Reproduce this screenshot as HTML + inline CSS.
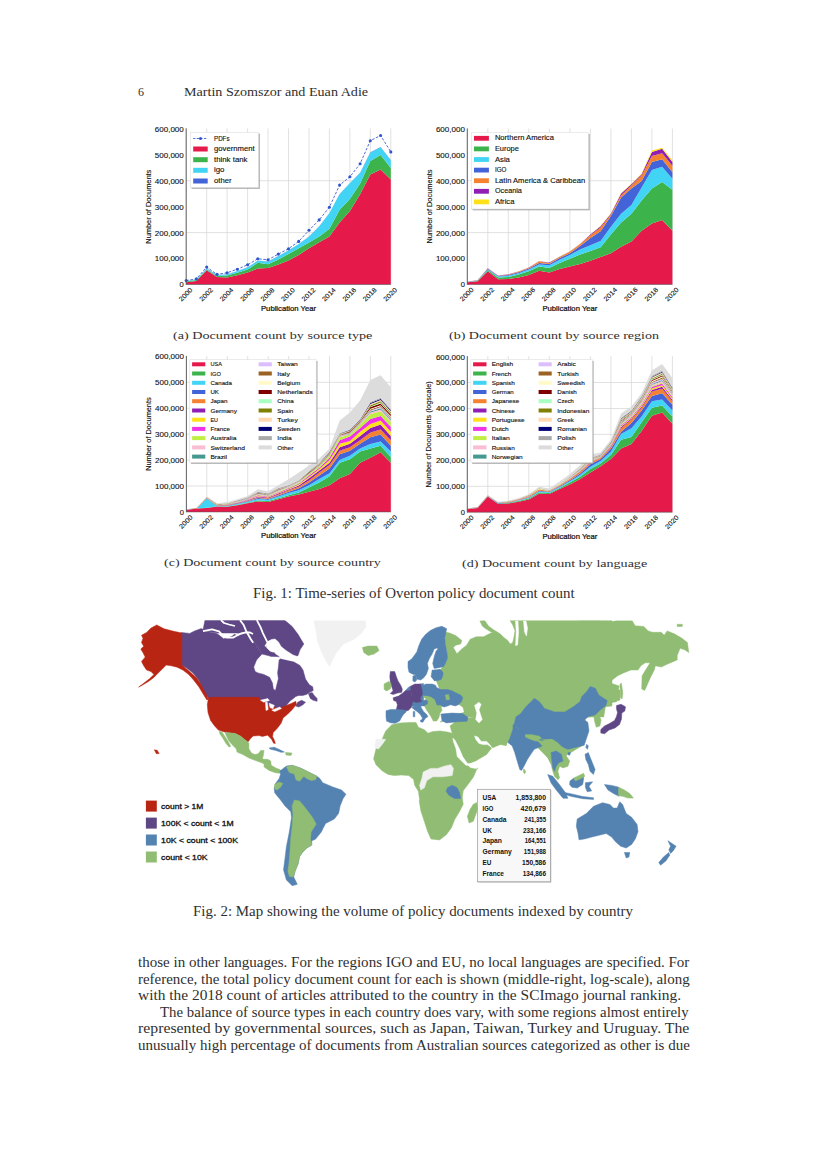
<!DOCTYPE html>
<html><head><meta charset="utf-8"><style>
html,body{margin:0;padding:0;background:#fff;}
body{width:827px;height:1169px;position:relative;overflow:hidden;}
.t{position:absolute;transform-origin:0 0;font-family:"Liberation Serif",serif;color:#303030;white-space:nowrap;line-height:1;}
.j{text-align:justify;text-align-last:justify;white-space:normal;}
svg{position:absolute;left:0;top:0;}
.tk{font-family:"Liberation Sans",sans-serif;font-size:6.6px;fill:#111;stroke:#111;stroke-width:0.1px;}
.at{font-family:"Liberation Sans",sans-serif;font-size:6.6px;fill:#111;stroke:#111;stroke-width:0.12px;}
.at2{font-family:"Liberation Sans",sans-serif;font-size:6.8px;fill:#111;stroke:#111;stroke-width:0.22px;}
.lg{font-family:"Liberation Sans",sans-serif;font-size:6.3px;fill:#111;stroke:#111;stroke-width:0.12px;}
.lg2{font-family:"Liberation Sans",sans-serif;font-size:5.6px;fill:#111;stroke:#111;stroke-width:0.12px;}
.ml{font-family:"Liberation Sans",sans-serif;font-size:7.6px;fill:#111;stroke:#111;stroke-width:0.3px;}
.tb{font-family:"Liberation Sans",sans-serif;font-size:6.4px;fill:#111;font-weight:bold;}
</style></head><body>

<svg width="827" height="1169" viewBox="0 0 827 1169">
<line x1="186.2" y1="128.4" x2="186.2" y2="284.5" stroke="#d4d4d4" stroke-width="0.7"/>
<line x1="206.7" y1="128.4" x2="206.7" y2="284.5" stroke="#d4d4d4" stroke-width="0.7"/>
<line x1="227.1" y1="128.4" x2="227.1" y2="284.5" stroke="#d4d4d4" stroke-width="0.7"/>
<line x1="247.6" y1="128.4" x2="247.6" y2="284.5" stroke="#d4d4d4" stroke-width="0.7"/>
<line x1="268" y1="128.4" x2="268" y2="284.5" stroke="#d4d4d4" stroke-width="0.7"/>
<line x1="288.5" y1="128.4" x2="288.5" y2="284.5" stroke="#d4d4d4" stroke-width="0.7"/>
<line x1="309" y1="128.4" x2="309" y2="284.5" stroke="#d4d4d4" stroke-width="0.7"/>
<line x1="329.4" y1="128.4" x2="329.4" y2="284.5" stroke="#d4d4d4" stroke-width="0.7"/>
<line x1="349.9" y1="128.4" x2="349.9" y2="284.5" stroke="#d4d4d4" stroke-width="0.7"/>
<line x1="370.3" y1="128.4" x2="370.3" y2="284.5" stroke="#d4d4d4" stroke-width="0.7"/>
<line x1="390.8" y1="128.4" x2="390.8" y2="284.5" stroke="#d4d4d4" stroke-width="0.7"/>
<line x1="186.2" y1="232.6" x2="390.8" y2="232.6" stroke="#d4d4d4" stroke-width="0.7"/>
<line x1="186.2" y1="180.7" x2="390.8" y2="180.7" stroke="#d4d4d4" stroke-width="0.7"/>
<path d="M186.2,282.2 L196.4,280.9 L206.7,270.2 L216.9,277 L227.1,277.5 L237.3,275.2 L247.6,272.6 L257.8,268.4 L268,267.9 L278.3,264.5 L288.5,260.6 L298.7,254.9 L309,248.2 L319.2,242.2 L329.4,236.5 L339.6,222.5 L349.9,211.1 L360.1,194.2 L370.3,174.5 L380.6,169.5 L390.8,179.4 L390.8,284.5 L380.6,284.5 L370.3,284.5 L360.1,284.5 L349.9,284.5 L339.6,284.5 L329.4,284.5 L319.2,284.5 L309,284.5 L298.7,284.5 L288.5,284.5 L278.3,284.5 L268,284.5 L257.8,284.5 L247.6,284.5 L237.3,284.5 L227.1,284.5 L216.9,284.5 L206.7,284.5 L196.4,284.5 L186.2,284.5Z" fill="#e6194B"/>
<path d="M186.2,281.6 L196.4,280.1 L206.7,269.4 L216.9,275.9 L227.1,275.4 L237.3,272.8 L247.6,269.4 L257.8,262.7 L268,264.3 L278.3,259.6 L288.5,254.1 L298.7,248.2 L309,242.5 L319.2,236.5 L329.4,228.7 L339.6,209.8 L349.9,199.1 L360.1,183.6 L370.3,161 L380.6,155 L390.8,168 L390.8,179.4 L380.6,169.5 L370.3,174.5 L360.1,194.2 L349.9,211.1 L339.6,222.5 L329.4,236.5 L319.2,242.2 L309,248.2 L298.7,254.9 L288.5,260.6 L278.3,264.5 L268,267.9 L257.8,268.4 L247.6,272.6 L237.3,275.2 L227.1,277.5 L216.9,277 L206.7,270.2 L196.4,280.9 L186.2,282.2Z" fill="#3cb44b"/>
<path d="M186.2,281.1 L196.4,279.3 L206.7,268.4 L216.9,275.2 L227.1,274.4 L237.3,271 L247.6,267.4 L257.8,260.6 L268,261.7 L278.3,256.2 L288.5,250.5 L298.7,244 L309,236.8 L319.2,226.4 L329.4,213.1 L339.6,194.2 L349.9,183 L360.1,172.9 L370.3,152.4 L380.6,147.2 L390.8,160.2 L390.8,168 L380.6,155 L370.3,161 L360.1,183.6 L349.9,199.1 L339.6,209.8 L329.4,228.7 L319.2,236.5 L309,242.5 L298.7,248.2 L288.5,254.1 L278.3,259.6 L268,264.3 L257.8,262.7 L247.6,269.4 L237.3,272.8 L227.1,275.4 L216.9,275.9 L206.7,269.4 L196.4,280.1 L186.2,281.6Z" fill="#42d4f4"/>
<path d="M186.2,281 L196.4,279.2 L206.7,268.3 L216.9,275 L227.1,274.2 L237.3,270.9 L247.6,267.2 L257.8,260.5 L268,261.5 L278.3,256.1 L288.5,250.3 L298.7,243.9 L309,236.6 L319.2,226.2 L329.4,213 L339.6,194 L349.9,182.9 L360.1,172.8 L370.3,152.3 L380.6,147.1 L390.8,160 L390.8,160.2 L380.6,147.2 L370.3,152.4 L360.1,172.9 L349.9,183 L339.6,194.2 L329.4,213.1 L319.2,226.4 L309,236.8 L298.7,244 L288.5,250.5 L278.3,256.2 L268,261.7 L257.8,260.6 L247.6,267.4 L237.3,271 L227.1,274.4 L216.9,275.2 L206.7,268.4 L196.4,279.3 L186.2,281.1Z" fill="#4363d8"/>
<polyline points="186.2,280.6 196.4,278.8 206.7,267.1 216.9,274.4 227.1,272.8 237.3,269.2 247.6,264.8 257.8,258.8 268,259.8 278.3,254.1 288.5,248.7 298.7,241.4 309,230.3 319.2,219.9 329.4,207.2 339.6,185.1 349.9,176.8 360.1,163.8 370.3,140.7 380.6,135.5 390.8,151.9" fill="none" stroke="#3b5bd0" stroke-width="0.9" stroke-dasharray="2.6,1.6"/>
<circle cx="186.2" cy="280.6" r="1.55" fill="#2f55cc"/>
<circle cx="196.4" cy="278.8" r="1.55" fill="#2f55cc"/>
<circle cx="206.7" cy="267.1" r="1.55" fill="#2f55cc"/>
<circle cx="216.9" cy="274.4" r="1.55" fill="#2f55cc"/>
<circle cx="227.1" cy="272.8" r="1.55" fill="#2f55cc"/>
<circle cx="237.3" cy="269.2" r="1.55" fill="#2f55cc"/>
<circle cx="247.6" cy="264.8" r="1.55" fill="#2f55cc"/>
<circle cx="257.8" cy="258.8" r="1.55" fill="#2f55cc"/>
<circle cx="268" cy="259.8" r="1.55" fill="#2f55cc"/>
<circle cx="278.3" cy="254.1" r="1.55" fill="#2f55cc"/>
<circle cx="288.5" cy="248.7" r="1.55" fill="#2f55cc"/>
<circle cx="298.7" cy="241.4" r="1.55" fill="#2f55cc"/>
<circle cx="309" cy="230.3" r="1.55" fill="#2f55cc"/>
<circle cx="319.2" cy="219.9" r="1.55" fill="#2f55cc"/>
<circle cx="329.4" cy="207.2" r="1.55" fill="#2f55cc"/>
<circle cx="339.6" cy="185.1" r="1.55" fill="#2f55cc"/>
<circle cx="349.9" cy="176.8" r="1.55" fill="#2f55cc"/>
<circle cx="360.1" cy="163.8" r="1.55" fill="#2f55cc"/>
<circle cx="370.3" cy="140.7" r="1.55" fill="#2f55cc"/>
<circle cx="380.6" cy="135.5" r="1.55" fill="#2f55cc"/>
<circle cx="390.8" cy="151.9" r="1.55" fill="#2f55cc"/>
<line x1="186.2" y1="128.3" x2="186.2" y2="284.8" stroke="#555" stroke-width="0.9"/>
<line x1="186.2" y1="284.5" x2="390.8" y2="284.5" stroke="#555" stroke-width="0.6"/>
<text x="183.8" y="287.4" text-anchor="end" class="tk" textLength="4.2" lengthAdjust="spacingAndGlyphs">0</text>
<text x="183.8" y="261.4" text-anchor="end" class="tk" textLength="29" lengthAdjust="spacingAndGlyphs">100,000</text>
<text x="183.8" y="235.5" text-anchor="end" class="tk" textLength="29" lengthAdjust="spacingAndGlyphs">200,000</text>
<text x="183.8" y="209.6" text-anchor="end" class="tk" textLength="29" lengthAdjust="spacingAndGlyphs">300,000</text>
<text x="183.8" y="183.6" text-anchor="end" class="tk" textLength="29" lengthAdjust="spacingAndGlyphs">400,000</text>
<text x="183.8" y="157.7" text-anchor="end" class="tk" textLength="29" lengthAdjust="spacingAndGlyphs">500,000</text>
<text x="183.8" y="131.7" text-anchor="end" class="tk" textLength="29" lengthAdjust="spacingAndGlyphs">600,000</text>
<text transform="translate(185.6,294.4) rotate(-45)" x="0" y="2.3" text-anchor="middle" class="tk" textLength="16.2" lengthAdjust="spacingAndGlyphs">2000</text>
<text transform="translate(206.1,294.4) rotate(-45)" x="0" y="2.3" text-anchor="middle" class="tk" textLength="16.2" lengthAdjust="spacingAndGlyphs">2002</text>
<text transform="translate(226.5,294.4) rotate(-45)" x="0" y="2.3" text-anchor="middle" class="tk" textLength="16.2" lengthAdjust="spacingAndGlyphs">2004</text>
<text transform="translate(247,294.4) rotate(-45)" x="0" y="2.3" text-anchor="middle" class="tk" textLength="16.2" lengthAdjust="spacingAndGlyphs">2006</text>
<text transform="translate(267.4,294.4) rotate(-45)" x="0" y="2.3" text-anchor="middle" class="tk" textLength="16.2" lengthAdjust="spacingAndGlyphs">2008</text>
<text transform="translate(287.9,294.4) rotate(-45)" x="0" y="2.3" text-anchor="middle" class="tk" textLength="16.2" lengthAdjust="spacingAndGlyphs">2010</text>
<text transform="translate(308.4,294.4) rotate(-45)" x="0" y="2.3" text-anchor="middle" class="tk" textLength="16.2" lengthAdjust="spacingAndGlyphs">2012</text>
<text transform="translate(328.8,294.4) rotate(-45)" x="0" y="2.3" text-anchor="middle" class="tk" textLength="16.2" lengthAdjust="spacingAndGlyphs">2014</text>
<text transform="translate(349.3,294.4) rotate(-45)" x="0" y="2.3" text-anchor="middle" class="tk" textLength="16.2" lengthAdjust="spacingAndGlyphs">2016</text>
<text transform="translate(369.7,294.4) rotate(-45)" x="0" y="2.3" text-anchor="middle" class="tk" textLength="16.2" lengthAdjust="spacingAndGlyphs">2018</text>
<text transform="translate(390.2,294.4) rotate(-45)" x="0" y="2.3" text-anchor="middle" class="tk" textLength="16.2" lengthAdjust="spacingAndGlyphs">2020</text>
<text x="288.5" y="311" text-anchor="middle" class="at2" textLength="55" lengthAdjust="spacingAndGlyphs">Publication Year</text>
<text transform="translate(148.8,206.7) rotate(-90)" x="0" y="2.2" text-anchor="middle" class="at" textLength="74" lengthAdjust="spacingAndGlyphs">Number of Documents</text>
<rect x="191.6" y="133.7" width="68.2" height="55.1" fill="#9a9a9a" opacity="0.85"/>
<rect x="190.3" y="132.4" width="68.2" height="55.1" fill="#fff" stroke="#dedede" stroke-width="0.6"/>
<line x1="193.2" y1="138.5" x2="207.7" y2="138.5" stroke="#3b5bd0" stroke-width="0.9" stroke-dasharray="2.2,1.4"/>
<circle cx="200.5" cy="138.5" r="1.5" fill="#2f55cc"/>
<text x="214" y="140.6" class="lg" textLength="15.5" lengthAdjust="spacingAndGlyphs">PDFs</text>
<rect x="193.2" y="146.5" width="14.5" height="5" fill="#e6194B"/>
<text x="214" y="151.1" class="lg" textLength="40.6" lengthAdjust="spacingAndGlyphs">government</text>
<rect x="193.2" y="157.2" width="14.5" height="5" fill="#3cb44b"/>
<text x="214" y="161.8" class="lg" textLength="33.5" lengthAdjust="spacingAndGlyphs">think tank</text>
<rect x="193.2" y="167.8" width="14.5" height="5" fill="#42d4f4"/>
<text x="214" y="172.4" class="lg" textLength="10.5" lengthAdjust="spacingAndGlyphs">igo</text>
<rect x="193.2" y="178.5" width="14.5" height="5" fill="#4363d8"/>
<text x="214" y="183.1" class="lg" textLength="17.5" lengthAdjust="spacingAndGlyphs">other</text>
<line x1="467.3" y1="128.5" x2="467.3" y2="284.4" stroke="#d4d4d4" stroke-width="0.7"/>
<line x1="487.8" y1="128.5" x2="487.8" y2="284.4" stroke="#d4d4d4" stroke-width="0.7"/>
<line x1="508.3" y1="128.5" x2="508.3" y2="284.4" stroke="#d4d4d4" stroke-width="0.7"/>
<line x1="528.8" y1="128.5" x2="528.8" y2="284.4" stroke="#d4d4d4" stroke-width="0.7"/>
<line x1="549.3" y1="128.5" x2="549.3" y2="284.4" stroke="#d4d4d4" stroke-width="0.7"/>
<line x1="569.9" y1="128.5" x2="569.9" y2="284.4" stroke="#d4d4d4" stroke-width="0.7"/>
<line x1="590.4" y1="128.5" x2="590.4" y2="284.4" stroke="#d4d4d4" stroke-width="0.7"/>
<line x1="610.9" y1="128.5" x2="610.9" y2="284.4" stroke="#d4d4d4" stroke-width="0.7"/>
<line x1="631.4" y1="128.5" x2="631.4" y2="284.4" stroke="#d4d4d4" stroke-width="0.7"/>
<line x1="651.9" y1="128.5" x2="651.9" y2="284.4" stroke="#d4d4d4" stroke-width="0.7"/>
<line x1="672.4" y1="128.5" x2="672.4" y2="284.4" stroke="#d4d4d4" stroke-width="0.7"/>
<line x1="467.3" y1="232.6" x2="672.4" y2="232.6" stroke="#d4d4d4" stroke-width="0.7"/>
<line x1="467.3" y1="180.7" x2="672.4" y2="180.7" stroke="#d4d4d4" stroke-width="0.7"/>
<path d="M467.3,282.3 L477.6,281.3 L487.8,271.2 L498.1,279.2 L508.3,279 L518.6,277.4 L528.8,275.1 L539.1,270.7 L549.3,272.5 L559.6,269.1 L569.9,266.5 L580.1,263.9 L590.4,260.8 L600.6,256.9 L610.9,253.3 L621.1,246.8 L631.4,241.6 L641.6,230.8 L651.9,223.5 L662.1,219.9 L672.4,230.8 L672.4,284.4 L662.1,284.4 L651.9,284.4 L641.6,284.4 L631.4,284.4 L621.1,284.4 L610.9,284.4 L600.6,284.4 L590.4,284.4 L580.1,284.4 L569.9,284.4 L559.6,284.4 L549.3,284.4 L539.1,284.4 L528.8,284.4 L518.6,284.4 L508.3,284.4 L498.1,284.4 L487.8,284.4 L477.6,284.4 L467.3,284.4Z" fill="#e6194B"/>
<path d="M467.3,282.2 L477.6,280.8 L487.8,269.9 L498.1,277.4 L508.3,276.9 L518.6,274.6 L528.8,271.2 L539.1,266.5 L549.3,268.1 L559.6,263.1 L569.9,258.7 L580.1,254.6 L590.4,251 L600.6,247.3 L610.9,234.4 L621.1,222.4 L631.4,213.7 L641.6,200.6 L651.9,188.6 L662.1,182.1 L672.4,189.7 L672.4,230.8 L662.1,219.9 L651.9,223.5 L641.6,230.8 L631.4,241.6 L621.1,246.8 L610.9,253.3 L600.6,256.9 L590.4,260.8 L580.1,263.9 L569.9,266.5 L559.6,269.1 L549.3,272.5 L539.1,270.7 L528.8,275.1 L518.6,277.4 L508.3,279 L498.1,279.2 L487.8,271.2 L477.6,281.3 L467.3,282.3Z" fill="#3cb44b"/>
<path d="M467.3,282.1 L477.6,280.5 L487.8,269.4 L498.1,276.6 L508.3,275.8 L518.6,273.3 L528.8,269.4 L539.1,264.4 L549.3,265.2 L559.6,259.8 L569.9,255.1 L580.1,249.4 L590.4,245.3 L600.6,240.9 L610.9,226.8 L621.1,213.7 L631.4,205 L641.6,187.5 L651.9,170.1 L662.1,166.8 L672.4,178.8 L672.4,189.7 L662.1,182.1 L651.9,188.6 L641.6,200.6 L631.4,213.7 L621.1,222.4 L610.9,234.4 L600.6,247.3 L590.4,251 L580.1,254.6 L569.9,258.7 L559.6,263.1 L549.3,268.1 L539.1,266.5 L528.8,271.2 L518.6,274.6 L508.3,276.9 L498.1,277.4 L487.8,269.9 L477.6,280.8 L467.3,282.2Z" fill="#42d4f4"/>
<path d="M467.3,281.9 L477.6,280.3 L487.8,268.8 L498.1,276.1 L508.3,275.1 L518.6,272.2 L528.8,268.6 L539.1,262.9 L549.3,263.9 L559.6,258 L569.9,253.3 L580.1,246 L590.4,238 L600.6,231.3 L610.9,215.9 L621.1,197.4 L631.4,188.6 L641.6,181 L651.9,161.9 L662.1,159.2 L672.4,172.3 L672.4,178.8 L662.1,166.8 L651.9,170.1 L641.6,187.5 L631.4,205 L621.1,213.7 L610.9,226.8 L600.6,240.9 L590.4,245.3 L580.1,249.4 L569.9,255.1 L559.6,259.8 L549.3,265.2 L539.1,264.4 L528.8,269.4 L518.6,273.3 L508.3,275.8 L498.1,276.6 L487.8,269.4 L477.6,280.5 L467.3,282.1Z" fill="#4363d8"/>
<path d="M467.3,281.9 L477.6,280 L487.8,268.6 L498.1,275.8 L508.3,274.6 L518.6,271.7 L528.8,267.8 L539.1,261.6 L549.3,262.9 L559.6,256.9 L569.9,251.7 L580.1,244.2 L590.4,235.2 L600.6,227.4 L610.9,214.8 L621.1,195.2 L631.4,185.4 L641.6,175.5 L651.9,155.9 L662.1,153.2 L672.4,165.7 L672.4,172.3 L662.1,159.2 L651.9,161.9 L641.6,181 L631.4,188.6 L621.1,197.4 L610.9,215.9 L600.6,231.3 L590.4,238 L580.1,246 L569.9,253.3 L559.6,258 L549.3,263.9 L539.1,262.9 L528.8,268.6 L518.6,272.2 L508.3,275.1 L498.1,276.1 L487.8,268.8 L477.6,280.3 L467.3,281.9Z" fill="#f58231"/>
<path d="M467.3,281.8 L477.6,280 L487.8,268.3 L498.1,275.6 L508.3,274.3 L518.6,271.4 L528.8,267.6 L539.1,261.3 L549.3,262.6 L559.6,256.7 L569.9,251.5 L580.1,244 L590.4,234.6 L600.6,226.3 L610.9,213.7 L621.1,193.5 L631.4,184.3 L641.6,174.2 L651.9,152.1 L662.1,148.8 L672.4,161.9 L672.4,165.7 L662.1,153.2 L651.9,155.9 L641.6,175.5 L631.4,185.4 L621.1,195.2 L610.9,214.8 L600.6,227.4 L590.4,235.2 L580.1,244.2 L569.9,251.7 L559.6,256.9 L549.3,262.9 L539.1,261.6 L528.8,267.8 L518.6,271.7 L508.3,274.6 L498.1,275.8 L487.8,268.6 L477.6,280 L467.3,281.9Z" fill="#911eb4"/>
<path d="M467.3,281.8 L477.6,280 L487.8,268.3 L498.1,275.6 L508.3,274.3 L518.6,271.2 L528.8,267.6 L539.1,261.1 L549.3,262.6 L559.6,256.4 L569.9,251.2 L580.1,243.7 L590.4,234.4 L600.6,225.8 L610.9,213.2 L621.1,193 L631.4,183.7 L641.6,173.4 L651.9,150.4 L662.1,147.7 L672.4,160.3 L672.4,161.9 L662.1,148.8 L651.9,152.1 L641.6,174.2 L631.4,184.3 L621.1,193.5 L610.9,213.7 L600.6,226.3 L590.4,234.6 L580.1,244 L569.9,251.5 L559.6,256.7 L549.3,262.6 L539.1,261.3 L528.8,267.6 L518.6,271.4 L508.3,274.3 L498.1,275.6 L487.8,268.3 L477.6,280 L467.3,281.8Z" fill="#ffe119"/>
<line x1="467.3" y1="128.4" x2="467.3" y2="284.7" stroke="#555" stroke-width="0.9"/>
<line x1="467.3" y1="284.4" x2="672.4" y2="284.4" stroke="#555" stroke-width="0.6"/>
<text x="464.9" y="287.3" text-anchor="end" class="tk" textLength="4.2" lengthAdjust="spacingAndGlyphs">0</text>
<text x="464.9" y="261.4" text-anchor="end" class="tk" textLength="29" lengthAdjust="spacingAndGlyphs">100,000</text>
<text x="464.9" y="235.5" text-anchor="end" class="tk" textLength="29" lengthAdjust="spacingAndGlyphs">200,000</text>
<text x="464.9" y="209.5" text-anchor="end" class="tk" textLength="29" lengthAdjust="spacingAndGlyphs">300,000</text>
<text x="464.9" y="183.6" text-anchor="end" class="tk" textLength="29" lengthAdjust="spacingAndGlyphs">400,000</text>
<text x="464.9" y="157.7" text-anchor="end" class="tk" textLength="29" lengthAdjust="spacingAndGlyphs">500,000</text>
<text x="464.9" y="131.8" text-anchor="end" class="tk" textLength="29" lengthAdjust="spacingAndGlyphs">600,000</text>
<text transform="translate(466.7,294.3) rotate(-45)" x="0" y="2.3" text-anchor="middle" class="tk" textLength="16.2" lengthAdjust="spacingAndGlyphs">2000</text>
<text transform="translate(487.2,294.3) rotate(-45)" x="0" y="2.3" text-anchor="middle" class="tk" textLength="16.2" lengthAdjust="spacingAndGlyphs">2002</text>
<text transform="translate(507.7,294.3) rotate(-45)" x="0" y="2.3" text-anchor="middle" class="tk" textLength="16.2" lengthAdjust="spacingAndGlyphs">2004</text>
<text transform="translate(528.2,294.3) rotate(-45)" x="0" y="2.3" text-anchor="middle" class="tk" textLength="16.2" lengthAdjust="spacingAndGlyphs">2006</text>
<text transform="translate(548.7,294.3) rotate(-45)" x="0" y="2.3" text-anchor="middle" class="tk" textLength="16.2" lengthAdjust="spacingAndGlyphs">2008</text>
<text transform="translate(569.2,294.3) rotate(-45)" x="0" y="2.3" text-anchor="middle" class="tk" textLength="16.2" lengthAdjust="spacingAndGlyphs">2010</text>
<text transform="translate(589.8,294.3) rotate(-45)" x="0" y="2.3" text-anchor="middle" class="tk" textLength="16.2" lengthAdjust="spacingAndGlyphs">2012</text>
<text transform="translate(610.3,294.3) rotate(-45)" x="0" y="2.3" text-anchor="middle" class="tk" textLength="16.2" lengthAdjust="spacingAndGlyphs">2014</text>
<text transform="translate(630.8,294.3) rotate(-45)" x="0" y="2.3" text-anchor="middle" class="tk" textLength="16.2" lengthAdjust="spacingAndGlyphs">2016</text>
<text transform="translate(651.3,294.3) rotate(-45)" x="0" y="2.3" text-anchor="middle" class="tk" textLength="16.2" lengthAdjust="spacingAndGlyphs">2018</text>
<text transform="translate(671.8,294.3) rotate(-45)" x="0" y="2.3" text-anchor="middle" class="tk" textLength="16.2" lengthAdjust="spacingAndGlyphs">2020</text>
<text x="569.9" y="310.9" text-anchor="middle" class="at2" textLength="55" lengthAdjust="spacingAndGlyphs">Publication Year</text>
<text transform="translate(429.8,206.6) rotate(-90)" x="0" y="2.2" text-anchor="middle" class="at" textLength="74" lengthAdjust="spacingAndGlyphs">Number of Documents</text>
<rect x="472.6" y="134" width="117.1" height="76.3" fill="#9a9a9a" opacity="0.85"/>
<rect x="471.3" y="132.7" width="117.1" height="76.3" fill="#fff" stroke="#dedede" stroke-width="0.6"/>
<rect x="474" y="135.9" width="14.9" height="4.8" fill="#e6194B"/>
<text x="494.9" y="140.4" class="lg" textLength="59" lengthAdjust="spacingAndGlyphs">Northern America</text>
<rect x="474" y="146.5" width="14.9" height="4.8" fill="#3cb44b"/>
<text x="494.9" y="151" class="lg" textLength="24" lengthAdjust="spacingAndGlyphs">Europe</text>
<rect x="474" y="157.1" width="14.9" height="4.8" fill="#42d4f4"/>
<text x="494.9" y="161.6" class="lg" textLength="15" lengthAdjust="spacingAndGlyphs">Asia</text>
<rect x="474" y="167.7" width="14.9" height="4.8" fill="#4363d8"/>
<text x="494.9" y="172.2" class="lg" textLength="11.5" lengthAdjust="spacingAndGlyphs">IGO</text>
<rect x="474" y="178.3" width="14.9" height="4.8" fill="#f58231"/>
<text x="494.9" y="182.8" class="lg" textLength="90.3" lengthAdjust="spacingAndGlyphs">Latin America &amp; Caribbean</text>
<rect x="474" y="188.9" width="14.9" height="4.8" fill="#911eb4"/>
<text x="494.9" y="193.4" class="lg" textLength="27" lengthAdjust="spacingAndGlyphs">Oceania</text>
<rect x="474" y="199.5" width="14.9" height="4.8" fill="#ffe119"/>
<text x="494.9" y="204" class="lg" textLength="19.5" lengthAdjust="spacingAndGlyphs">Africa</text>
<line x1="186.4" y1="356" x2="186.4" y2="511.9" stroke="#d4d4d4" stroke-width="0.7"/>
<line x1="206.8" y1="356" x2="206.8" y2="511.9" stroke="#d4d4d4" stroke-width="0.7"/>
<line x1="227.3" y1="356" x2="227.3" y2="511.9" stroke="#d4d4d4" stroke-width="0.7"/>
<line x1="247.7" y1="356" x2="247.7" y2="511.9" stroke="#d4d4d4" stroke-width="0.7"/>
<line x1="268.2" y1="356" x2="268.2" y2="511.9" stroke="#d4d4d4" stroke-width="0.7"/>
<line x1="288.6" y1="356" x2="288.6" y2="511.9" stroke="#d4d4d4" stroke-width="0.7"/>
<line x1="309" y1="356" x2="309" y2="511.9" stroke="#d4d4d4" stroke-width="0.7"/>
<line x1="329.5" y1="356" x2="329.5" y2="511.9" stroke="#d4d4d4" stroke-width="0.7"/>
<line x1="349.9" y1="356" x2="349.9" y2="511.9" stroke="#d4d4d4" stroke-width="0.7"/>
<line x1="370.4" y1="356" x2="370.4" y2="511.9" stroke="#d4d4d4" stroke-width="0.7"/>
<line x1="390.8" y1="356" x2="390.8" y2="511.9" stroke="#d4d4d4" stroke-width="0.7"/>
<line x1="186.4" y1="486" x2="390.8" y2="486" stroke="#d4d4d4" stroke-width="0.7"/>
<line x1="186.4" y1="460.1" x2="390.8" y2="460.1" stroke="#d4d4d4" stroke-width="0.7"/>
<line x1="186.4" y1="434.1" x2="390.8" y2="434.1" stroke="#d4d4d4" stroke-width="0.7"/>
<line x1="186.4" y1="408.2" x2="390.8" y2="408.2" stroke="#d4d4d4" stroke-width="0.7"/>
<line x1="186.4" y1="382.3" x2="390.8" y2="382.3" stroke="#d4d4d4" stroke-width="0.7"/>
<path d="M186.4,509.9 L196.6,508.6 L206.8,507.9 L217.1,506.6 L227.3,506.8 L237.5,505.3 L247.7,503.3 L257.9,501.5 L268.2,501.9 L278.4,499.3 L288.6,496.6 L298.8,494.5 L309,491.7 L319.3,488.9 L329.5,485.3 L339.7,478.3 L349.9,474 L360.1,462.8 L370.4,457.8 L380.6,452.2 L390.8,462.8 L390.8,511.9 L380.6,511.9 L370.4,511.9 L360.1,511.9 L349.9,511.9 L339.7,511.9 L329.5,511.9 L319.3,511.9 L309,511.9 L298.8,511.9 L288.6,511.9 L278.4,511.9 L268.2,511.9 L257.9,511.9 L247.7,511.9 L237.5,511.9 L227.3,511.9 L217.1,511.9 L206.8,511.9 L196.6,511.9 L186.4,511.9Z" fill="#e6194B"/>
<path d="M186.4,509.9 L196.6,508.5 L206.8,507.7 L217.1,506.3 L227.3,506.5 L237.5,504.8 L247.7,502.7 L257.9,500.6 L268.2,501.1 L278.4,498.2 L288.6,495.2 L298.8,492.4 L309,487.5 L319.3,482.5 L329.5,476.2 L339.7,462.8 L349.9,459.2 L360.1,451.5 L370.4,448.6 L380.6,445.8 L390.8,457.1 L390.8,462.8 L380.6,452.2 L370.4,457.8 L360.1,462.8 L349.9,474 L339.7,478.3 L329.5,485.3 L319.3,488.9 L309,491.7 L298.8,494.5 L288.6,496.6 L278.4,499.3 L268.2,501.9 L257.9,501.5 L247.7,503.3 L237.5,505.3 L227.3,506.8 L217.1,506.6 L206.8,507.9 L196.6,508.6 L186.4,509.9Z" fill="#3cb44b"/>
<path d="M186.4,509.8 L196.6,508.4 L206.8,498.6 L217.1,505.9 L227.3,505.9 L237.5,504.1 L247.7,501.8 L257.9,499.1 L268.2,499.8 L278.4,496.5 L288.6,493.1 L298.8,490.3 L309,485.3 L319.3,479 L329.5,473.3 L339.7,459.9 L349.9,455.7 L360.1,448.6 L370.4,444.1 L380.6,441.6 L390.8,451.5 L390.8,457.1 L380.6,445.8 L370.4,448.6 L360.1,451.5 L349.9,459.2 L339.7,462.8 L329.5,476.2 L319.3,482.5 L309,487.5 L298.8,492.4 L288.6,495.2 L278.4,498.2 L268.2,501.1 L257.9,500.6 L247.7,502.7 L237.5,504.8 L227.3,506.5 L217.1,506.3 L206.8,507.7 L196.6,508.5 L186.4,509.9Z" fill="#42d4f4"/>
<path d="M186.4,509.7 L196.6,508.4 L206.8,498.3 L217.1,505.7 L227.3,505.5 L237.5,503.6 L247.7,501.2 L257.9,498.1 L268.2,498.9 L278.4,495.4 L288.6,491.7 L298.8,488.2 L309,482.5 L319.3,475.5 L329.5,468.4 L339.7,454.3 L349.9,450.7 L360.1,443.7 L370.4,437.3 L380.6,434.5 L390.8,445.8 L390.8,451.5 L380.6,441.6 L370.4,444.1 L360.1,448.6 L349.9,455.7 L339.7,459.9 L329.5,473.3 L319.3,479 L309,485.3 L298.8,490.3 L288.6,493.1 L278.4,496.5 L268.2,499.8 L257.9,499.1 L247.7,501.8 L237.5,504.1 L227.3,505.9 L217.1,505.9 L206.8,498.6 L196.6,508.4 L186.4,509.8Z" fill="#4363d8"/>
<path d="M186.4,509.7 L196.6,508.3 L206.8,498.1 L217.1,505.4 L227.3,505.1 L237.5,503.2 L247.7,500.7 L257.9,497.3 L268.2,498.2 L278.4,494.4 L288.6,490.3 L298.8,486.8 L309,480.4 L319.3,472.6 L329.5,464.9 L339.7,450.7 L349.9,447.2 L360.1,440.2 L370.4,432.4 L380.6,429.6 L390.8,440.2 L390.8,445.8 L380.6,434.5 L370.4,437.3 L360.1,443.7 L349.9,450.7 L339.7,454.3 L329.5,468.4 L319.3,475.5 L309,482.5 L298.8,488.2 L288.6,491.7 L278.4,495.4 L268.2,498.9 L257.9,498.1 L247.7,501.2 L237.5,503.6 L227.3,505.5 L217.1,505.7 L206.8,498.3 L196.6,508.4 L186.4,509.7Z" fill="#f58231"/>
<path d="M186.4,509.6 L196.6,508.3 L206.8,497.9 L217.1,505.2 L227.3,504.8 L237.5,502.8 L247.7,500.3 L257.9,496.5 L268.2,497.6 L278.4,493.6 L288.6,489.6 L298.8,485.6 L309,478.3 L319.3,470.5 L329.5,462.8 L339.7,447.2 L349.9,443.7 L360.1,435.9 L370.4,428.1 L380.6,424.6 L390.8,435.9 L390.8,440.2 L380.6,429.6 L370.4,432.4 L360.1,440.2 L349.9,447.2 L339.7,450.7 L329.5,464.9 L319.3,472.6 L309,480.4 L298.8,486.8 L288.6,490.3 L278.4,494.4 L268.2,498.2 L257.9,497.3 L247.7,500.7 L237.5,503.2 L227.3,505.1 L217.1,505.4 L206.8,498.1 L196.6,508.3 L186.4,509.7Z" fill="#911eb4"/>
<path d="M186.4,509.6 L196.6,508.3 L206.8,497.7 L217.1,505.1 L227.3,504.6 L237.5,502.5 L247.7,499.9 L257.9,495.9 L268.2,497 L278.4,492.9 L288.6,488.9 L298.8,484.6 L309,476.9 L319.3,469.1 L329.5,459.9 L339.7,443.7 L349.9,440.9 L360.1,431.7 L370.4,423.9 L380.6,420.4 L390.8,431.7 L390.8,435.9 L380.6,424.6 L370.4,428.1 L360.1,435.9 L349.9,443.7 L339.7,447.2 L329.5,462.8 L319.3,470.5 L309,478.3 L298.8,485.6 L288.6,489.6 L278.4,493.6 L268.2,497.6 L257.9,496.5 L247.7,500.3 L237.5,502.8 L227.3,504.8 L217.1,505.2 L206.8,497.9 L196.6,508.3 L186.4,509.6Z" fill="#ffe119"/>
<path d="M186.4,509.6 L196.6,508.2 L206.8,497.6 L217.1,504.9 L227.3,504.3 L237.5,502.2 L247.7,499.5 L257.9,495.3 L268.2,496.5 L278.4,492.2 L288.6,488.2 L298.8,483.7 L309,475.5 L319.3,467.7 L329.5,457.8 L339.7,440.2 L349.9,436.6 L360.1,428.1 L370.4,419 L380.6,416.1 L390.8,426.7 L390.8,431.7 L380.6,420.4 L370.4,423.9 L360.1,431.7 L349.9,440.9 L339.7,443.7 L329.5,459.9 L319.3,469.1 L309,476.9 L298.8,484.6 L288.6,488.9 L278.4,492.9 L268.2,497 L257.9,495.9 L247.7,499.9 L237.5,502.5 L227.3,504.6 L217.1,505.1 L206.8,497.7 L196.6,508.3 L186.4,509.6Z" fill="#f032e6"/>
<path d="M186.4,509.5 L196.6,508.2 L206.8,497.5 L217.1,504.7 L227.3,504.1 L237.5,501.9 L247.7,499.2 L257.9,494.7 L268.2,496 L278.4,491.5 L288.6,487.5 L298.8,482.8 L309,474.3 L319.3,466.3 L329.5,455.7 L339.7,437.3 L349.9,434.5 L360.1,424.6 L370.4,414 L380.6,411.2 L390.8,421.8 L390.8,426.7 L380.6,416.1 L370.4,419 L360.1,428.1 L349.9,436.6 L339.7,440.2 L329.5,457.8 L319.3,467.7 L309,475.5 L298.8,483.7 L288.6,488.2 L278.4,492.2 L268.2,496.5 L257.9,495.3 L247.7,499.5 L237.5,502.2 L227.3,504.3 L217.1,504.9 L206.8,497.6 L196.6,508.2 L186.4,509.6Z" fill="#bfef45"/>
<path d="M186.4,509.5 L196.6,508.2 L206.8,497.5 L217.1,504.6 L227.3,503.9 L237.5,501.7 L247.7,499 L257.9,494.3 L268.2,495.7 L278.4,491.1 L288.6,487.2 L298.8,482.5 L309,474 L319.3,465.9 L329.5,455.2 L339.7,436.8 L349.9,433.9 L360.1,424 L370.4,412.6 L380.6,409.6 L390.8,420.3 L390.8,421.8 L380.6,411.2 L370.4,414 L360.1,424.6 L349.9,434.5 L339.7,437.3 L329.5,455.7 L319.3,466.3 L309,474.3 L298.8,482.8 L288.6,487.5 L278.4,491.5 L268.2,496 L257.9,494.7 L247.7,499.2 L237.5,501.9 L227.3,504.1 L217.1,504.7 L206.8,497.5 L196.6,508.2 L186.4,509.5Z" fill="#fabed4"/>
<path d="M186.4,509.5 L196.6,508.2 L206.8,497.4 L217.1,504.6 L227.3,503.8 L237.5,501.6 L247.7,498.8 L257.9,494 L268.2,495.4 L278.4,490.7 L288.6,487 L298.8,482.3 L309,473.7 L319.3,465.5 L329.5,454.8 L339.7,436.4 L349.9,433.4 L360.1,423.4 L370.4,411.4 L380.6,408.3 L390.8,419.1 L390.8,420.3 L380.6,409.6 L370.4,412.6 L360.1,424 L349.9,433.9 L339.7,436.8 L329.5,455.2 L319.3,465.9 L309,474 L298.8,482.5 L288.6,487.2 L278.4,491.1 L268.2,495.7 L257.9,494.3 L247.7,499 L237.5,501.7 L227.3,503.9 L217.1,504.6 L206.8,497.5 L196.6,508.2 L186.4,509.5Z" fill="#469990"/>
<path d="M186.4,509.5 L196.6,508.2 L206.8,497.4 L217.1,504.5 L227.3,503.7 L237.5,501.5 L247.7,498.6 L257.9,493.8 L268.2,495.2 L278.4,490.4 L288.6,486.8 L298.8,482.1 L309,473.4 L319.3,465.2 L329.5,454.4 L339.7,436 L349.9,433 L360.1,422.9 L370.4,410.4 L380.6,407.1 L390.8,417.9 L390.8,419.1 L380.6,408.3 L370.4,411.4 L360.1,423.4 L349.9,433.4 L339.7,436.4 L329.5,454.8 L319.3,465.5 L309,473.7 L298.8,482.3 L288.6,487 L278.4,490.7 L268.2,495.4 L257.9,494 L247.7,498.8 L237.5,501.6 L227.3,503.8 L217.1,504.6 L206.8,497.4 L196.6,508.2 L186.4,509.5Z" fill="#dcbeff"/>
<path d="M186.4,509.5 L196.6,508.1 L206.8,497.4 L217.1,504.4 L227.3,503.6 L237.5,501.4 L247.7,498.5 L257.9,493.6 L268.2,495 L278.4,490.2 L288.6,486.7 L298.8,481.9 L309,473.1 L319.3,464.9 L329.5,454.1 L339.7,435.7 L349.9,432.6 L360.1,422.5 L370.4,409.4 L380.6,406.1 L390.8,416.9 L390.8,417.9 L380.6,407.1 L370.4,410.4 L360.1,422.9 L349.9,433 L339.7,436 L329.5,454.4 L319.3,465.2 L309,473.4 L298.8,482.1 L288.6,486.8 L278.4,490.4 L268.2,495.2 L257.9,493.8 L247.7,498.6 L237.5,501.5 L227.3,503.7 L217.1,504.5 L206.8,497.4 L196.6,508.2 L186.4,509.5Z" fill="#9A6324"/>
<path d="M186.4,509.5 L196.6,508.1 L206.8,497.4 L217.1,504.4 L227.3,503.6 L237.5,501.3 L247.7,498.4 L257.9,493.4 L268.2,494.8 L278.4,490 L288.6,486.5 L298.8,481.7 L309,473 L319.3,464.7 L329.5,453.8 L339.7,435.5 L349.9,432.3 L360.1,422.1 L370.4,408.7 L380.6,405.3 L390.8,416.2 L390.8,416.9 L380.6,406.1 L370.4,409.4 L360.1,422.5 L349.9,432.6 L339.7,435.7 L329.5,454.1 L319.3,464.9 L309,473.1 L298.8,481.9 L288.6,486.7 L278.4,490.2 L268.2,495 L257.9,493.6 L247.7,498.5 L237.5,501.4 L227.3,503.6 L217.1,504.4 L206.8,497.4 L196.6,508.1 L186.4,509.5Z" fill="#fffac8"/>
<path d="M186.4,509.4 L196.6,508.1 L206.8,497.3 L217.1,504.3 L227.3,503.4 L237.5,501.1 L247.7,498.2 L257.9,493 L268.2,494.5 L278.4,489.5 L288.6,486.2 L298.8,481.4 L309,472.5 L319.3,464.2 L329.5,453.2 L339.7,434.9 L349.9,431.6 L360.1,421.3 L370.4,407.1 L380.6,403.4 L390.8,414.4 L390.8,416.2 L380.6,405.3 L370.4,408.7 L360.1,422.1 L349.9,432.3 L339.7,435.5 L329.5,453.8 L319.3,464.7 L309,473 L298.8,481.7 L288.6,486.5 L278.4,490 L268.2,494.8 L257.9,493.4 L247.7,498.4 L237.5,501.3 L227.3,503.6 L217.1,504.4 L206.8,497.4 L196.6,508.1 L186.4,509.5Z" fill="#800000"/>
<path d="M186.4,509.4 L196.6,508.1 L206.8,497.3 L217.1,504.2 L227.3,503.3 L237.5,501 L247.7,498.1 L257.9,492.8 L268.2,494.3 L278.4,489.3 L288.6,486.1 L298.8,481.3 L309,472.4 L319.3,464 L329.5,453 L339.7,434.6 L349.9,431.4 L360.1,421 L370.4,406.4 L380.6,402.6 L390.8,413.7 L390.8,414.4 L380.6,403.4 L370.4,407.1 L360.1,421.3 L349.9,431.6 L339.7,434.9 L329.5,453.2 L319.3,464.2 L309,472.5 L298.8,481.4 L288.6,486.2 L278.4,489.5 L268.2,494.5 L257.9,493 L247.7,498.2 L237.5,501.1 L227.3,503.4 L217.1,504.3 L206.8,497.3 L196.6,508.1 L186.4,509.4Z" fill="#aaffc3"/>
<path d="M186.4,509.4 L196.6,508.1 L206.8,497.3 L217.1,504.1 L227.3,503.2 L237.5,500.9 L247.7,497.9 L257.9,492.5 L268.2,494.1 L278.4,489 L288.6,485.9 L298.8,481 L309,472 L319.3,463.7 L329.5,452.6 L339.7,434.2 L349.9,430.9 L360.1,420.5 L370.4,405.2 L380.6,401.3 L390.8,412.4 L390.8,413.7 L380.6,402.6 L370.4,406.4 L360.1,421 L349.9,431.4 L339.7,434.6 L329.5,453 L319.3,464 L309,472.4 L298.8,481.3 L288.6,486.1 L278.4,489.3 L268.2,494.3 L257.9,492.8 L247.7,498.1 L237.5,501 L227.3,503.3 L217.1,504.2 L206.8,497.3 L196.6,508.1 L186.4,509.4Z" fill="#808000"/>
<path d="M186.4,509.4 L196.6,508.1 L206.8,497.2 L217.1,504.1 L227.3,503.1 L237.5,500.7 L247.7,497.7 L257.9,492.2 L268.2,493.8 L278.4,488.7 L288.6,485.7 L298.8,480.8 L309,471.7 L319.3,463.3 L329.5,452.2 L339.7,433.8 L349.9,430.4 L360.1,419.9 L370.4,404 L380.6,400 L390.8,411.2 L390.8,412.4 L380.6,401.3 L370.4,405.2 L360.1,420.5 L349.9,430.9 L339.7,434.2 L329.5,452.6 L319.3,463.7 L309,472 L298.8,481 L288.6,485.9 L278.4,489 L268.2,494.1 L257.9,492.5 L247.7,497.9 L237.5,500.9 L227.3,503.2 L217.1,504.1 L206.8,497.3 L196.6,508.1 L186.4,509.4Z" fill="#ffd8b1"/>
<path d="M186.4,509.4 L196.6,508.1 L206.8,497.2 L217.1,504 L227.3,503 L237.5,500.6 L247.7,497.6 L257.9,492 L268.2,493.6 L278.4,488.4 L288.6,485.5 L298.8,480.6 L309,471.5 L319.3,463.1 L329.5,451.8 L339.7,433.5 L349.9,430 L360.1,419.5 L370.4,403.1 L380.6,399 L390.8,410.2 L390.8,411.2 L380.6,400 L370.4,404 L360.1,419.9 L349.9,430.4 L339.7,433.8 L329.5,452.2 L319.3,463.3 L309,471.7 L298.8,480.8 L288.6,485.7 L278.4,488.7 L268.2,493.8 L257.9,492.2 L247.7,497.7 L237.5,500.7 L227.3,503.1 L217.1,504.1 L206.8,497.2 L196.6,508.1 L186.4,509.4Z" fill="#000075"/>
<path d="M186.4,509.4 L196.6,508 L206.8,497.2 L217.1,503.9 L227.3,502.9 L237.5,500.5 L247.7,497.4 L257.9,491.7 L268.2,493.4 L278.4,488.1 L288.6,485.3 L298.8,480.4 L309,471.2 L319.3,462.8 L329.5,451.5 L339.7,433.1 L349.9,429.6 L360.1,419 L370.4,402 L380.6,397.8 L390.8,409.1 L390.8,410.2 L380.6,399 L370.4,403.1 L360.1,419.5 L349.9,430 L339.7,433.5 L329.5,451.8 L319.3,463.1 L309,471.5 L298.8,480.6 L288.6,485.5 L278.4,488.4 L268.2,493.6 L257.9,492 L247.7,497.6 L237.5,500.6 L227.3,503 L217.1,504 L206.8,497.2 L196.6,508.1 L186.4,509.4Z" fill="#a9a9a9"/>
<path d="M186.4,509.2 L196.6,507.9 L206.8,496.6 L217.1,503.3 L227.3,501.9 L237.5,499.3 L247.7,496 L257.9,489.3 L268.2,491.3 L278.4,485.3 L288.6,479.3 L298.8,472.6 L309,465.6 L319.3,458.5 L329.5,448.6 L339.7,420.4 L349.9,412.6 L360.1,400.6 L370.4,380.1 L380.6,375.2 L390.8,387.2 L390.8,409.1 L380.6,397.8 L370.4,402 L360.1,419 L349.9,429.6 L339.7,433.1 L329.5,451.5 L319.3,462.8 L309,471.2 L298.8,480.4 L288.6,485.3 L278.4,488.1 L268.2,493.4 L257.9,491.7 L247.7,497.4 L237.5,500.5 L227.3,502.9 L217.1,503.9 L206.8,497.2 L196.6,508 L186.4,509.4Z" fill="#dcdcdc"/>
<line x1="186.4" y1="355.9" x2="186.4" y2="512.2" stroke="#555" stroke-width="0.9"/>
<line x1="186.4" y1="511.9" x2="390.8" y2="511.9" stroke="#555" stroke-width="0.6"/>
<text x="184" y="514.8" text-anchor="end" class="tk" textLength="4.2" lengthAdjust="spacingAndGlyphs">0</text>
<text x="184" y="488.9" text-anchor="end" class="tk" textLength="29" lengthAdjust="spacingAndGlyphs">100,000</text>
<text x="184" y="463" text-anchor="end" class="tk" textLength="29" lengthAdjust="spacingAndGlyphs">200,000</text>
<text x="184" y="437" text-anchor="end" class="tk" textLength="29" lengthAdjust="spacingAndGlyphs">300,000</text>
<text x="184" y="411.1" text-anchor="end" class="tk" textLength="29" lengthAdjust="spacingAndGlyphs">400,000</text>
<text x="184" y="385.2" text-anchor="end" class="tk" textLength="29" lengthAdjust="spacingAndGlyphs">500,000</text>
<text x="184" y="359.3" text-anchor="end" class="tk" textLength="29" lengthAdjust="spacingAndGlyphs">600,000</text>
<text transform="translate(185.8,521.8) rotate(-45)" x="0" y="2.3" text-anchor="middle" class="tk" textLength="16.2" lengthAdjust="spacingAndGlyphs">2000</text>
<text transform="translate(206.2,521.8) rotate(-45)" x="0" y="2.3" text-anchor="middle" class="tk" textLength="16.2" lengthAdjust="spacingAndGlyphs">2002</text>
<text transform="translate(226.7,521.8) rotate(-45)" x="0" y="2.3" text-anchor="middle" class="tk" textLength="16.2" lengthAdjust="spacingAndGlyphs">2004</text>
<text transform="translate(247.1,521.8) rotate(-45)" x="0" y="2.3" text-anchor="middle" class="tk" textLength="16.2" lengthAdjust="spacingAndGlyphs">2006</text>
<text transform="translate(267.6,521.8) rotate(-45)" x="0" y="2.3" text-anchor="middle" class="tk" textLength="16.2" lengthAdjust="spacingAndGlyphs">2008</text>
<text transform="translate(288,521.8) rotate(-45)" x="0" y="2.3" text-anchor="middle" class="tk" textLength="16.2" lengthAdjust="spacingAndGlyphs">2010</text>
<text transform="translate(308.4,521.8) rotate(-45)" x="0" y="2.3" text-anchor="middle" class="tk" textLength="16.2" lengthAdjust="spacingAndGlyphs">2012</text>
<text transform="translate(328.9,521.8) rotate(-45)" x="0" y="2.3" text-anchor="middle" class="tk" textLength="16.2" lengthAdjust="spacingAndGlyphs">2014</text>
<text transform="translate(349.3,521.8) rotate(-45)" x="0" y="2.3" text-anchor="middle" class="tk" textLength="16.2" lengthAdjust="spacingAndGlyphs">2016</text>
<text transform="translate(369.8,521.8) rotate(-45)" x="0" y="2.3" text-anchor="middle" class="tk" textLength="16.2" lengthAdjust="spacingAndGlyphs">2018</text>
<text transform="translate(390.2,521.8) rotate(-45)" x="0" y="2.3" text-anchor="middle" class="tk" textLength="16.2" lengthAdjust="spacingAndGlyphs">2020</text>
<text x="288.6" y="538.4" text-anchor="middle" class="at2" textLength="55" lengthAdjust="spacingAndGlyphs">Publication Year</text>
<text transform="translate(149.1,434.1) rotate(-90)" x="0" y="2.2" text-anchor="middle" class="at" textLength="73.5" lengthAdjust="spacingAndGlyphs">Number of Documents</text>
<rect x="191" y="361" width="126.5" height="102.8" fill="#9a9a9a" opacity="0.85"/>
<rect x="189.7" y="359.7" width="126.5" height="102.8" fill="#fff" stroke="#dedede" stroke-width="0.6"/>
<rect x="192.1" y="362.3" width="13.2" height="4" fill="#e6194B"/>
<text x="210.4" y="366.4" class="lg2" textLength="11.5" lengthAdjust="spacingAndGlyphs">USA</text>
<rect x="192.1" y="371.5" width="13.2" height="4" fill="#3cb44b"/>
<text x="210.4" y="375.6" class="lg2" textLength="10.5" lengthAdjust="spacingAndGlyphs">IGO</text>
<rect x="192.1" y="380.8" width="13.2" height="4" fill="#42d4f4"/>
<text x="210.4" y="384.9" class="lg2" textLength="21.5" lengthAdjust="spacingAndGlyphs">Canada</text>
<rect x="192.1" y="390" width="13.2" height="4" fill="#4363d8"/>
<text x="210.4" y="394.1" class="lg2" textLength="8.5" lengthAdjust="spacingAndGlyphs">UK</text>
<rect x="192.1" y="399.2" width="13.2" height="4" fill="#f58231"/>
<text x="210.4" y="403.3" class="lg2" textLength="17" lengthAdjust="spacingAndGlyphs">Japan</text>
<rect x="192.1" y="408.5" width="13.2" height="4" fill="#911eb4"/>
<text x="210.4" y="412.6" class="lg2" textLength="26.5" lengthAdjust="spacingAndGlyphs">Germany</text>
<rect x="192.1" y="417.7" width="13.2" height="4" fill="#ffe119"/>
<text x="210.4" y="421.8" class="lg2" textLength="7.5" lengthAdjust="spacingAndGlyphs">EU</text>
<rect x="192.1" y="426.9" width="13.2" height="4" fill="#f032e6"/>
<text x="210.4" y="431" class="lg2" textLength="19.5" lengthAdjust="spacingAndGlyphs">France</text>
<rect x="192.1" y="436.1" width="13.2" height="4" fill="#bfef45"/>
<text x="210.4" y="440.2" class="lg2" textLength="26" lengthAdjust="spacingAndGlyphs">Australia</text>
<rect x="192.1" y="445.4" width="13.2" height="4" fill="#fabed4"/>
<text x="210.4" y="449.5" class="lg2" textLength="34.5" lengthAdjust="spacingAndGlyphs">Switzerland</text>
<rect x="192.1" y="454.6" width="13.2" height="4" fill="#469990"/>
<text x="210.4" y="458.7" class="lg2" textLength="16.5" lengthAdjust="spacingAndGlyphs">Brazil</text>
<rect x="258.6" y="362.3" width="13.2" height="4" fill="#dcbeff"/>
<text x="277.3" y="366.4" class="lg2" textLength="20.5" lengthAdjust="spacingAndGlyphs">Taiwan</text>
<rect x="258.6" y="371.5" width="13.2" height="4" fill="#9A6324"/>
<text x="277.3" y="375.6" class="lg2" textLength="12.5" lengthAdjust="spacingAndGlyphs">Italy</text>
<rect x="258.6" y="380.8" width="13.2" height="4" fill="#fffac8"/>
<text x="277.3" y="384.9" class="lg2" textLength="23" lengthAdjust="spacingAndGlyphs">Belgium</text>
<rect x="258.6" y="390" width="13.2" height="4" fill="#800000"/>
<text x="277.3" y="394.1" class="lg2" textLength="35.5" lengthAdjust="spacingAndGlyphs">Netherlands</text>
<rect x="258.6" y="399.2" width="13.2" height="4" fill="#aaffc3"/>
<text x="277.3" y="403.3" class="lg2" textLength="16.5" lengthAdjust="spacingAndGlyphs">China</text>
<rect x="258.6" y="408.5" width="13.2" height="4" fill="#808000"/>
<text x="277.3" y="412.6" class="lg2" textLength="16" lengthAdjust="spacingAndGlyphs">Spain</text>
<rect x="258.6" y="417.7" width="13.2" height="4" fill="#ffd8b1"/>
<text x="277.3" y="421.8" class="lg2" textLength="20.5" lengthAdjust="spacingAndGlyphs">Turkey</text>
<rect x="258.6" y="426.9" width="13.2" height="4" fill="#000075"/>
<text x="277.3" y="431" class="lg2" textLength="23" lengthAdjust="spacingAndGlyphs">Sweden</text>
<rect x="258.6" y="436.1" width="13.2" height="4" fill="#a9a9a9"/>
<text x="277.3" y="440.2" class="lg2" textLength="14.5" lengthAdjust="spacingAndGlyphs">India</text>
<rect x="258.6" y="445.4" width="13.2" height="4" fill="#dcdcdc"/>
<text x="277.3" y="449.5" class="lg2" textLength="16" lengthAdjust="spacingAndGlyphs">Other</text>
<line x1="467.3" y1="356.2" x2="467.3" y2="512.2" stroke="#d4d4d4" stroke-width="0.7"/>
<line x1="487.8" y1="356.2" x2="487.8" y2="512.2" stroke="#d4d4d4" stroke-width="0.7"/>
<line x1="508.3" y1="356.2" x2="508.3" y2="512.2" stroke="#d4d4d4" stroke-width="0.7"/>
<line x1="528.8" y1="356.2" x2="528.8" y2="512.2" stroke="#d4d4d4" stroke-width="0.7"/>
<line x1="549.3" y1="356.2" x2="549.3" y2="512.2" stroke="#d4d4d4" stroke-width="0.7"/>
<line x1="569.9" y1="356.2" x2="569.9" y2="512.2" stroke="#d4d4d4" stroke-width="0.7"/>
<line x1="590.4" y1="356.2" x2="590.4" y2="512.2" stroke="#d4d4d4" stroke-width="0.7"/>
<line x1="610.9" y1="356.2" x2="610.9" y2="512.2" stroke="#d4d4d4" stroke-width="0.7"/>
<line x1="631.4" y1="356.2" x2="631.4" y2="512.2" stroke="#d4d4d4" stroke-width="0.7"/>
<line x1="651.9" y1="356.2" x2="651.9" y2="512.2" stroke="#d4d4d4" stroke-width="0.7"/>
<line x1="672.4" y1="356.2" x2="672.4" y2="512.2" stroke="#d4d4d4" stroke-width="0.7"/>
<line x1="467.3" y1="486.3" x2="672.4" y2="486.3" stroke="#d4d4d4" stroke-width="0.7"/>
<line x1="467.3" y1="460.3" x2="672.4" y2="460.3" stroke="#d4d4d4" stroke-width="0.7"/>
<line x1="467.3" y1="434.4" x2="672.4" y2="434.4" stroke="#d4d4d4" stroke-width="0.7"/>
<line x1="467.3" y1="408.5" x2="672.4" y2="408.5" stroke="#d4d4d4" stroke-width="0.7"/>
<line x1="467.3" y1="382.5" x2="672.4" y2="382.5" stroke="#d4d4d4" stroke-width="0.7"/>
<path d="M467.3,509.1 L477.6,508.1 L487.8,496.6 L498.1,503.9 L508.3,503.6 L518.6,501.8 L528.8,499.5 L539.1,493.8 L549.3,494 L559.6,489.1 L569.9,484.5 L580.1,479 L590.4,472.5 L600.6,466.3 L610.9,459 L621.1,448.4 L631.4,444 L641.6,431 L651.9,415.7 L662.1,412.4 L672.4,423.8 L672.4,512.2 L662.1,512.2 L651.9,512.2 L641.6,512.2 L631.4,512.2 L621.1,512.2 L610.9,512.2 L600.6,512.2 L590.4,512.2 L580.1,512.2 L569.9,512.2 L559.6,512.2 L549.3,512.2 L539.1,512.2 L528.8,512.2 L518.6,512.2 L508.3,512.2 L498.1,512.2 L487.8,512.2 L477.6,512.2 L467.3,512.2Z" fill="#e6194B"/>
<path d="M467.3,509 L477.6,507.9 L487.8,496.4 L498.1,503.6 L508.3,503.1 L518.6,501 L528.8,498.5 L539.1,492.5 L549.3,493 L559.6,488.1 L569.9,482.6 L580.1,476.7 L590.4,468.9 L600.6,463.4 L610.9,454.9 L621.1,439.8 L631.4,437 L641.6,422.2 L651.9,407.7 L662.1,405.6 L672.4,416.5 L672.4,423.8 L662.1,412.4 L651.9,415.7 L641.6,431 L631.4,444 L621.1,448.4 L610.9,459 L600.6,466.3 L590.4,472.5 L580.1,479 L569.9,484.5 L559.6,489.1 L549.3,494 L539.1,493.8 L528.8,499.5 L518.6,501.8 L508.3,503.6 L498.1,503.9 L487.8,496.6 L477.6,508.1 L467.3,509.1Z" fill="#3cb44b"/>
<path d="M467.3,508.8 L477.6,507.8 L487.8,496.1 L498.1,503.4 L508.3,502.9 L518.6,500.5 L528.8,497.7 L539.1,491.5 L549.3,492.2 L559.6,487 L569.9,481.3 L580.1,475.1 L590.4,466.8 L600.6,461.1 L610.9,451.8 L621.1,433.9 L631.4,428.2 L641.6,416.5 L651.9,401.2 L662.1,399.6 L672.4,410.5 L672.4,416.5 L662.1,405.6 L651.9,407.7 L641.6,422.2 L631.4,437 L621.1,439.8 L610.9,454.9 L600.6,463.4 L590.4,468.9 L580.1,476.7 L569.9,482.6 L559.6,488.1 L549.3,493 L539.1,492.5 L528.8,498.5 L518.6,501 L508.3,503.1 L498.1,503.6 L487.8,496.4 L477.6,507.9 L467.3,509Z" fill="#42d4f4"/>
<path d="M467.3,508.7 L477.6,507.7 L487.8,495.9 L498.1,503.1 L508.3,502.6 L518.6,500.3 L528.8,497.2 L539.1,490.7 L549.3,491.7 L559.6,486.3 L569.9,480.3 L580.1,473.6 L590.4,464.2 L600.6,459 L610.9,448.7 L621.1,431.8 L631.4,423 L641.6,410.5 L651.9,396 L662.1,393.2 L672.4,404.8 L672.4,410.5 L662.1,399.6 L651.9,401.2 L641.6,416.5 L631.4,428.2 L621.1,433.9 L610.9,451.8 L600.6,461.1 L590.4,466.8 L580.1,475.1 L569.9,481.3 L559.6,487 L549.3,492.2 L539.1,491.5 L528.8,497.7 L518.6,500.5 L508.3,502.9 L498.1,503.4 L487.8,496.1 L477.6,507.8 L467.3,508.8Z" fill="#4363d8"/>
<path d="M467.3,508.6 L477.6,507.5 L487.8,495.6 L498.1,502.9 L508.3,502.1 L518.6,499.8 L528.8,496.4 L539.1,489.6 L549.3,491.2 L559.6,485.5 L569.9,479.3 L580.1,472 L590.4,462.9 L600.6,457.7 L610.9,447.4 L621.1,428.2 L631.4,419.4 L641.6,407.7 L651.9,391.6 L662.1,388.8 L672.4,401.2 L672.4,404.8 L662.1,393.2 L651.9,396 L641.6,410.5 L631.4,423 L621.1,431.8 L610.9,448.7 L600.6,459 L590.4,464.2 L580.1,473.6 L569.9,480.3 L559.6,486.3 L549.3,491.7 L539.1,490.7 L528.8,497.2 L518.6,500.3 L508.3,502.6 L498.1,503.1 L487.8,495.9 L477.6,507.7 L467.3,508.7Z" fill="#f58231"/>
<path d="M467.3,508.6 L477.6,507.5 L487.8,495.6 L498.1,502.8 L508.3,502 L518.6,499.6 L528.8,496.2 L539.1,489.5 L549.3,491.1 L559.6,485.3 L569.9,478.9 L580.1,471.6 L590.4,462.4 L600.6,457.4 L610.9,446.7 L621.1,427.1 L631.4,418.4 L641.6,406.4 L651.9,389.9 L662.1,386.8 L672.4,399.7 L672.4,401.2 L662.1,388.8 L651.9,391.6 L641.6,407.7 L631.4,419.4 L621.1,428.2 L610.9,447.4 L600.6,457.7 L590.4,462.9 L580.1,472 L569.9,479.3 L559.6,485.5 L549.3,491.2 L539.1,489.6 L528.8,496.4 L518.6,499.8 L508.3,502.1 L498.1,502.9 L487.8,495.6 L477.6,507.5 L467.3,508.6Z" fill="#911eb4"/>
<path d="M467.3,508.5 L477.6,507.5 L487.8,495.6 L498.1,502.8 L508.3,501.9 L518.6,499.6 L528.8,496.1 L539.1,489.3 L549.3,491 L559.6,485.1 L569.9,478.7 L580.1,471.3 L590.4,462 L600.6,457.2 L610.9,446.3 L621.1,426.2 L631.4,417.7 L641.6,405.5 L651.9,388.6 L662.1,385.3 L672.4,398.6 L672.4,399.7 L662.1,386.8 L651.9,389.9 L641.6,406.4 L631.4,418.4 L621.1,427.1 L610.9,446.7 L600.6,457.4 L590.4,462.4 L580.1,471.6 L569.9,478.9 L559.6,485.3 L549.3,491.1 L539.1,489.5 L528.8,496.2 L518.6,499.6 L508.3,502 L498.1,502.8 L487.8,495.6 L477.6,507.5 L467.3,508.6Z" fill="#ffe119"/>
<path d="M467.3,508.5 L477.6,507.5 L487.8,495.5 L498.1,502.7 L508.3,501.9 L518.6,499.5 L528.8,496 L539.1,489.2 L549.3,490.9 L559.6,484.9 L569.9,478.4 L580.1,470.9 L590.4,461.5 L600.6,456.9 L610.9,445.7 L621.1,425.2 L631.4,416.9 L641.6,404.4 L651.9,387.1 L662.1,383.6 L672.4,397.2 L672.4,398.6 L662.1,385.3 L651.9,388.6 L641.6,405.5 L631.4,417.7 L621.1,426.2 L610.9,446.3 L600.6,457.2 L590.4,462 L580.1,471.3 L569.9,478.7 L559.6,485.1 L549.3,491 L539.1,489.3 L528.8,496.1 L518.6,499.6 L508.3,501.9 L498.1,502.8 L487.8,495.6 L477.6,507.5 L467.3,508.5Z" fill="#f032e6"/>
<path d="M467.3,508.5 L477.6,507.4 L487.8,495.5 L498.1,502.7 L508.3,501.8 L518.6,499.4 L528.8,495.9 L539.1,489.1 L549.3,490.8 L559.6,484.8 L569.9,478.2 L580.1,470.6 L590.4,461.2 L600.6,456.6 L610.9,445.4 L621.1,424.5 L631.4,416.3 L641.6,403.6 L651.9,386.1 L662.1,382.4 L672.4,396.3 L672.4,397.2 L662.1,383.6 L651.9,387.1 L641.6,404.4 L631.4,416.9 L621.1,425.2 L610.9,445.7 L600.6,456.9 L590.4,461.5 L580.1,470.9 L569.9,478.4 L559.6,484.9 L549.3,490.9 L539.1,489.2 L528.8,496 L518.6,499.5 L508.3,501.9 L498.1,502.7 L487.8,495.5 L477.6,507.5 L467.3,508.5Z" fill="#bfef45"/>
<path d="M467.3,508.5 L477.6,507.4 L487.8,495.5 L498.1,502.6 L508.3,501.7 L518.6,499.3 L528.8,495.8 L539.1,489 L549.3,490.7 L559.6,484.6 L569.9,477.9 L580.1,470.3 L590.4,460.8 L600.6,456.4 L610.9,444.9 L621.1,423.7 L631.4,415.5 L641.6,402.6 L651.9,384.8 L662.1,380.9 L672.4,395.1 L672.4,396.3 L662.1,382.4 L651.9,386.1 L641.6,403.6 L631.4,416.3 L621.1,424.5 L610.9,445.4 L600.6,456.6 L590.4,461.2 L580.1,470.6 L569.9,478.2 L559.6,484.8 L549.3,490.8 L539.1,489.1 L528.8,495.9 L518.6,499.4 L508.3,501.8 L498.1,502.7 L487.8,495.5 L477.6,507.4 L467.3,508.5Z" fill="#fabed4"/>
<path d="M467.3,508.5 L477.6,507.4 L487.8,495.5 L498.1,502.6 L508.3,501.7 L518.6,499.2 L528.8,495.7 L539.1,488.9 L549.3,490.7 L559.6,484.5 L569.9,477.8 L580.1,470.1 L590.4,460.5 L600.6,456.2 L610.9,444.6 L621.1,423.1 L631.4,415.1 L641.6,402 L651.9,383.9 L662.1,379.9 L672.4,394.4 L672.4,395.1 L662.1,380.9 L651.9,384.8 L641.6,402.6 L631.4,415.5 L621.1,423.7 L610.9,444.9 L600.6,456.4 L590.4,460.8 L580.1,470.3 L569.9,477.9 L559.6,484.6 L549.3,490.7 L539.1,489 L528.8,495.8 L518.6,499.3 L508.3,501.7 L498.1,502.6 L487.8,495.5 L477.6,507.4 L467.3,508.5Z" fill="#469990"/>
<path d="M467.3,508.5 L477.6,507.4 L487.8,495.5 L498.1,502.6 L508.3,501.7 L518.6,499.2 L528.8,495.7 L539.1,488.8 L549.3,490.6 L559.6,484.3 L569.9,477.5 L580.1,469.8 L590.4,460.2 L600.6,456 L610.9,444.2 L621.1,422.4 L631.4,414.5 L641.6,401.2 L651.9,382.8 L662.1,378.7 L672.4,393.4 L672.4,394.4 L662.1,379.9 L651.9,383.9 L641.6,402 L631.4,415.1 L621.1,423.1 L610.9,444.6 L600.6,456.2 L590.4,460.5 L580.1,470.1 L569.9,477.8 L559.6,484.5 L549.3,490.7 L539.1,488.9 L528.8,495.7 L518.6,499.2 L508.3,501.7 L498.1,502.6 L487.8,495.5 L477.6,507.4 L467.3,508.5Z" fill="#dcbeff"/>
<path d="M467.3,508.5 L477.6,507.4 L487.8,495.4 L498.1,502.5 L508.3,501.6 L518.6,499.1 L528.8,495.6 L539.1,488.7 L549.3,490.6 L559.6,484.2 L569.9,477.4 L580.1,469.6 L590.4,459.9 L600.6,455.8 L610.9,443.9 L621.1,421.8 L631.4,413.9 L641.6,400.5 L651.9,381.9 L662.1,377.6 L672.4,392.6 L672.4,393.4 L662.1,378.7 L651.9,382.8 L641.6,401.2 L631.4,414.5 L621.1,422.4 L610.9,444.2 L600.6,456 L590.4,460.2 L580.1,469.8 L569.9,477.5 L559.6,484.3 L549.3,490.6 L539.1,488.8 L528.8,495.7 L518.6,499.2 L508.3,501.7 L498.1,502.6 L487.8,495.5 L477.6,507.4 L467.3,508.5Z" fill="#9A6324"/>
<path d="M467.3,508.5 L477.6,507.4 L487.8,495.4 L498.1,502.5 L508.3,501.6 L518.6,499.1 L528.8,495.5 L539.1,488.6 L549.3,490.5 L559.6,484.1 L569.9,477.2 L580.1,469.4 L590.4,459.6 L600.6,455.7 L610.9,443.6 L621.1,421.2 L631.4,413.5 L641.6,399.9 L651.9,381 L662.1,376.6 L672.4,391.8 L672.4,392.6 L662.1,377.6 L651.9,381.9 L641.6,400.5 L631.4,413.9 L621.1,421.8 L610.9,443.9 L600.6,455.8 L590.4,459.9 L580.1,469.6 L569.9,477.4 L559.6,484.2 L549.3,490.6 L539.1,488.7 L528.8,495.6 L518.6,499.1 L508.3,501.6 L498.1,502.5 L487.8,495.4 L477.6,507.4 L467.3,508.5Z" fill="#fffac8"/>
<path d="M467.3,508.5 L477.6,507.3 L487.8,495.4 L498.1,502.5 L508.3,501.5 L518.6,499 L528.8,495.4 L539.1,488.5 L549.3,490.4 L559.6,484 L569.9,477 L580.1,469.2 L590.4,459.3 L600.6,455.5 L610.9,443.2 L621.1,420.6 L631.4,412.9 L641.6,399.2 L651.9,380.1 L662.1,375.5 L672.4,391 L672.4,391.8 L662.1,376.6 L651.9,381 L641.6,399.9 L631.4,413.5 L621.1,421.2 L610.9,443.6 L600.6,455.7 L590.4,459.6 L580.1,469.4 L569.9,477.2 L559.6,484.1 L549.3,490.5 L539.1,488.6 L528.8,495.5 L518.6,499.1 L508.3,501.6 L498.1,502.5 L487.8,495.4 L477.6,507.4 L467.3,508.5Z" fill="#800000"/>
<path d="M467.3,508.5 L477.6,507.3 L487.8,495.4 L498.1,502.5 L508.3,501.5 L518.6,498.9 L528.8,495.4 L539.1,488.4 L549.3,490.4 L559.6,483.9 L569.9,476.8 L580.1,469 L590.4,459.1 L600.6,455.3 L610.9,442.9 L621.1,420.1 L631.4,412.5 L641.6,398.6 L651.9,379.3 L662.1,374.7 L672.4,390.3 L672.4,391 L662.1,375.5 L651.9,380.1 L641.6,399.2 L631.4,412.9 L621.1,420.6 L610.9,443.2 L600.6,455.5 L590.4,459.3 L580.1,469.2 L569.9,477 L559.6,484 L549.3,490.4 L539.1,488.5 L528.8,495.4 L518.6,499 L508.3,501.5 L498.1,502.5 L487.8,495.4 L477.6,507.3 L467.3,508.5Z" fill="#aaffc3"/>
<path d="M467.3,508.5 L477.6,507.3 L487.8,495.4 L498.1,502.4 L508.3,501.4 L518.6,498.9 L528.8,495.3 L539.1,488.3 L549.3,490.3 L559.6,483.8 L569.9,476.7 L580.1,468.8 L590.4,458.8 L600.6,455.2 L610.9,442.6 L621.1,419.6 L631.4,412 L641.6,398 L651.9,378.5 L662.1,373.7 L672.4,389.6 L672.4,390.3 L662.1,374.7 L651.9,379.3 L641.6,398.6 L631.4,412.5 L621.1,420.1 L610.9,442.9 L600.6,455.3 L590.4,459.1 L580.1,469 L569.9,476.8 L559.6,483.9 L549.3,490.4 L539.1,488.4 L528.8,495.4 L518.6,498.9 L508.3,501.5 L498.1,502.5 L487.8,495.4 L477.6,507.3 L467.3,508.5Z" fill="#808000"/>
<path d="M467.3,508.5 L477.6,507.3 L487.8,495.4 L498.1,502.4 L508.3,501.4 L518.6,498.8 L528.8,495.2 L539.1,488.3 L549.3,490.3 L559.6,483.6 L569.9,476.5 L580.1,468.5 L590.4,458.5 L600.6,455 L610.9,442.3 L621.1,418.9 L631.4,411.5 L641.6,397.3 L651.9,377.5 L662.1,372.6 L672.4,388.7 L672.4,389.6 L662.1,373.7 L651.9,378.5 L641.6,398 L631.4,412 L621.1,419.6 L610.9,442.6 L600.6,455.2 L590.4,458.8 L580.1,468.8 L569.9,476.7 L559.6,483.8 L549.3,490.3 L539.1,488.3 L528.8,495.3 L518.6,498.9 L508.3,501.4 L498.1,502.4 L487.8,495.4 L477.6,507.3 L467.3,508.5Z" fill="#ffd8b1"/>
<path d="M467.3,508.4 L477.6,507.3 L487.8,495.4 L498.1,502.4 L508.3,501.4 L518.6,498.8 L528.8,495.2 L539.1,488.2 L549.3,490.2 L559.6,483.6 L569.9,476.4 L580.1,468.4 L590.4,458.3 L600.6,454.8 L610.9,442 L621.1,418.5 L631.4,411.1 L641.6,396.8 L651.9,376.9 L662.1,371.8 L672.4,388.1 L672.4,388.7 L662.1,372.6 L651.9,377.5 L641.6,397.3 L631.4,411.5 L621.1,418.9 L610.9,442.3 L600.6,455 L590.4,458.5 L580.1,468.5 L569.9,476.5 L559.6,483.6 L549.3,490.3 L539.1,488.3 L528.8,495.2 L518.6,498.8 L508.3,501.4 L498.1,502.4 L487.8,495.4 L477.6,507.3 L467.3,508.5Z" fill="#000075"/>
<path d="M467.3,508.4 L477.6,507.3 L487.8,495.3 L498.1,502.3 L508.3,501.3 L518.6,498.7 L528.8,495.1 L539.1,488.1 L549.3,490.2 L559.6,483.4 L569.9,476.2 L580.1,468.1 L590.4,458 L600.6,454.6 L610.9,441.7 L621.1,417.8 L631.4,410.5 L641.6,396 L651.9,375.8 L662.1,370.6 L672.4,387.2 L672.4,388.1 L662.1,371.8 L651.9,376.9 L641.6,396.8 L631.4,411.1 L621.1,418.5 L610.9,442 L600.6,454.8 L590.4,458.3 L580.1,468.4 L569.9,476.4 L559.6,483.6 L549.3,490.2 L539.1,488.2 L528.8,495.2 L518.6,498.8 L508.3,501.4 L498.1,502.4 L487.8,495.4 L477.6,507.3 L467.3,508.4Z" fill="#a9a9a9"/>
<path d="M467.3,508.3 L477.6,507 L487.8,495.1 L498.1,501.8 L508.3,500.8 L518.6,497.9 L528.8,494.3 L539.1,486.8 L549.3,488.6 L559.6,481.6 L569.9,474.1 L580.1,465.3 L590.4,454.6 L600.6,452.6 L610.9,439.8 L621.1,413.4 L631.4,406.4 L641.6,393.2 L651.9,370.6 L662.1,364.1 L672.4,377.9 L672.4,387.2 L662.1,370.6 L651.9,375.8 L641.6,396 L631.4,410.5 L621.1,417.8 L610.9,441.7 L600.6,454.6 L590.4,458 L580.1,468.1 L569.9,476.2 L559.6,483.4 L549.3,490.2 L539.1,488.1 L528.8,495.1 L518.6,498.7 L508.3,501.3 L498.1,502.3 L487.8,495.3 L477.6,507.3 L467.3,508.4Z" fill="#dcdcdc"/>
<line x1="467.3" y1="356.1" x2="467.3" y2="512.5" stroke="#555" stroke-width="0.9"/>
<line x1="467.3" y1="512.2" x2="672.4" y2="512.2" stroke="#555" stroke-width="0.6"/>
<text x="464.9" y="515.1" text-anchor="end" class="tk" textLength="4.2" lengthAdjust="spacingAndGlyphs">0</text>
<text x="464.9" y="489.2" text-anchor="end" class="tk" textLength="29" lengthAdjust="spacingAndGlyphs">100,000</text>
<text x="464.9" y="463.2" text-anchor="end" class="tk" textLength="29" lengthAdjust="spacingAndGlyphs">200,000</text>
<text x="464.9" y="437.3" text-anchor="end" class="tk" textLength="29" lengthAdjust="spacingAndGlyphs">300,000</text>
<text x="464.9" y="411.4" text-anchor="end" class="tk" textLength="29" lengthAdjust="spacingAndGlyphs">400,000</text>
<text x="464.9" y="385.4" text-anchor="end" class="tk" textLength="29" lengthAdjust="spacingAndGlyphs">500,000</text>
<text x="464.9" y="359.5" text-anchor="end" class="tk" textLength="29" lengthAdjust="spacingAndGlyphs">600,000</text>
<text transform="translate(466.7,522.1) rotate(-45)" x="0" y="2.3" text-anchor="middle" class="tk" textLength="16.2" lengthAdjust="spacingAndGlyphs">2000</text>
<text transform="translate(487.2,522.1) rotate(-45)" x="0" y="2.3" text-anchor="middle" class="tk" textLength="16.2" lengthAdjust="spacingAndGlyphs">2002</text>
<text transform="translate(507.7,522.1) rotate(-45)" x="0" y="2.3" text-anchor="middle" class="tk" textLength="16.2" lengthAdjust="spacingAndGlyphs">2004</text>
<text transform="translate(528.2,522.1) rotate(-45)" x="0" y="2.3" text-anchor="middle" class="tk" textLength="16.2" lengthAdjust="spacingAndGlyphs">2006</text>
<text transform="translate(548.7,522.1) rotate(-45)" x="0" y="2.3" text-anchor="middle" class="tk" textLength="16.2" lengthAdjust="spacingAndGlyphs">2008</text>
<text transform="translate(569.2,522.1) rotate(-45)" x="0" y="2.3" text-anchor="middle" class="tk" textLength="16.2" lengthAdjust="spacingAndGlyphs">2010</text>
<text transform="translate(589.8,522.1) rotate(-45)" x="0" y="2.3" text-anchor="middle" class="tk" textLength="16.2" lengthAdjust="spacingAndGlyphs">2012</text>
<text transform="translate(610.3,522.1) rotate(-45)" x="0" y="2.3" text-anchor="middle" class="tk" textLength="16.2" lengthAdjust="spacingAndGlyphs">2014</text>
<text transform="translate(630.8,522.1) rotate(-45)" x="0" y="2.3" text-anchor="middle" class="tk" textLength="16.2" lengthAdjust="spacingAndGlyphs">2016</text>
<text transform="translate(651.3,522.1) rotate(-45)" x="0" y="2.3" text-anchor="middle" class="tk" textLength="16.2" lengthAdjust="spacingAndGlyphs">2018</text>
<text transform="translate(671.8,522.1) rotate(-45)" x="0" y="2.3" text-anchor="middle" class="tk" textLength="16.2" lengthAdjust="spacingAndGlyphs">2020</text>
<text x="569.9" y="538.7" text-anchor="middle" class="at2" textLength="55" lengthAdjust="spacingAndGlyphs">Publication Year</text>
<text transform="translate(429.1,434.4) rotate(-90)" x="0" y="2.2" text-anchor="middle" class="at" textLength="106" lengthAdjust="spacingAndGlyphs">Number of Documents (logscale)</text>
<rect x="472.2" y="361" width="121.4" height="102.8" fill="#9a9a9a" opacity="0.85"/>
<rect x="470.9" y="359.7" width="121.4" height="102.8" fill="#fff" stroke="#dedede" stroke-width="0.6"/>
<rect x="473.1" y="362.3" width="13.4" height="4" fill="#e6194B"/>
<text x="491.7" y="366.4" class="lg2" textLength="21.5" lengthAdjust="spacingAndGlyphs">English</text>
<rect x="473.1" y="371.5" width="13.4" height="4" fill="#3cb44b"/>
<text x="491.7" y="375.6" class="lg2" textLength="19.5" lengthAdjust="spacingAndGlyphs">French</text>
<rect x="473.1" y="380.8" width="13.4" height="4" fill="#42d4f4"/>
<text x="491.7" y="384.9" class="lg2" textLength="23" lengthAdjust="spacingAndGlyphs">Spanish</text>
<rect x="473.1" y="390" width="13.4" height="4" fill="#4363d8"/>
<text x="491.7" y="394.1" class="lg2" textLength="22" lengthAdjust="spacingAndGlyphs">German</text>
<rect x="473.1" y="399.2" width="13.4" height="4" fill="#f58231"/>
<text x="491.7" y="403.3" class="lg2" textLength="27.5" lengthAdjust="spacingAndGlyphs">Japanese</text>
<rect x="473.1" y="408.5" width="13.4" height="4" fill="#911eb4"/>
<text x="491.7" y="412.6" class="lg2" textLength="23" lengthAdjust="spacingAndGlyphs">Chinese</text>
<rect x="473.1" y="417.7" width="13.4" height="4" fill="#ffe119"/>
<text x="491.7" y="421.8" class="lg2" textLength="33" lengthAdjust="spacingAndGlyphs">Portuguese</text>
<rect x="473.1" y="426.9" width="13.4" height="4" fill="#f032e6"/>
<text x="491.7" y="431" class="lg2" textLength="17" lengthAdjust="spacingAndGlyphs">Dutch</text>
<rect x="473.1" y="436.1" width="13.4" height="4" fill="#bfef45"/>
<text x="491.7" y="440.2" class="lg2" textLength="18" lengthAdjust="spacingAndGlyphs">Italian</text>
<rect x="473.1" y="445.4" width="13.4" height="4" fill="#fabed4"/>
<text x="491.7" y="449.5" class="lg2" textLength="23" lengthAdjust="spacingAndGlyphs">Russian</text>
<rect x="473.1" y="454.6" width="13.4" height="4" fill="#469990"/>
<text x="491.7" y="458.7" class="lg2" textLength="31" lengthAdjust="spacingAndGlyphs">Norwegian</text>
<rect x="538.6" y="362.3" width="13.1" height="4" fill="#dcbeff"/>
<text x="557.3" y="366.4" class="lg2" textLength="18.5" lengthAdjust="spacingAndGlyphs">Arabic</text>
<rect x="538.6" y="371.5" width="13.1" height="4" fill="#9A6324"/>
<text x="557.3" y="375.6" class="lg2" textLength="21.5" lengthAdjust="spacingAndGlyphs">Turkish</text>
<rect x="538.6" y="380.8" width="13.1" height="4" fill="#fffac8"/>
<text x="557.3" y="384.9" class="lg2" textLength="27.5" lengthAdjust="spacingAndGlyphs">Sweedish</text>
<rect x="538.6" y="390" width="13.1" height="4" fill="#800000"/>
<text x="557.3" y="394.1" class="lg2" textLength="19.5" lengthAdjust="spacingAndGlyphs">Danish</text>
<rect x="538.6" y="399.2" width="13.1" height="4" fill="#aaffc3"/>
<text x="557.3" y="403.3" class="lg2" textLength="16.5" lengthAdjust="spacingAndGlyphs">Czech</text>
<rect x="538.6" y="408.5" width="13.1" height="4" fill="#808000"/>
<text x="557.3" y="412.6" class="lg2" textLength="32" lengthAdjust="spacingAndGlyphs">Indonesian</text>
<rect x="538.6" y="417.7" width="13.1" height="4" fill="#ffd8b1"/>
<text x="557.3" y="421.8" class="lg2" textLength="16.5" lengthAdjust="spacingAndGlyphs">Greek</text>
<rect x="538.6" y="426.9" width="13.1" height="4" fill="#000075"/>
<text x="557.3" y="431" class="lg2" textLength="29.5" lengthAdjust="spacingAndGlyphs">Romanian</text>
<rect x="538.6" y="436.1" width="13.1" height="4" fill="#a9a9a9"/>
<text x="557.3" y="440.2" class="lg2" textLength="18.5" lengthAdjust="spacingAndGlyphs">Polish</text>
<rect x="538.6" y="445.4" width="13.1" height="4" fill="#dcdcdc"/>
<text x="557.3" y="449.5" class="lg2" textLength="16" lengthAdjust="spacingAndGlyphs">Other</text>
<path d="M181.4,632.5 L189.7,633.4 L194.5,631 L201.3,628.5 L206.1,631.4 L211.9,632.4 L216.8,633.4 L220.6,636.3 L223.5,638.7 L228.4,637.7 L232.2,636.3 L234.2,634.3 L238,635.8 L241.9,634.3 L245.8,632.4 L249,634 L252,638 L255,643 L258,648 L262,654 L256.6,659.9 L253.7,667.1 L255.1,671.5 L258,672.9 L263.8,674.4 L269.6,677.3 L272.5,683.1 L273.3,688.9 L275.5,690.4 L276.9,684.5 L278.4,678.7 L277.6,672.9 L278.4,667.1 L279.1,659.9 L281,658.5 L286.4,660 L294,662 L300,665.5 L303,670 L305.5,679 L309.3,684.8 L312.7,686.8 L313.2,690.6 L309.3,692.6 L306.4,694.5 L302.6,695.5 L298.7,695.5 L295.8,696.4 L293.4,698.4 L290,701 L285,707 L279.8,709 L275.8,709.6 L272.5,706.3 L269.2,707 L265.2,703.6 L261.2,701.6 L258.5,698.3 L208.6,698.3 L204.6,693.4 L198.8,680.3 L193,673 L186.6,668 L181.4,665Z" fill="#5e4784" stroke="#5e4784" stroke-width="0.5" stroke-linejoin="round"/>
<path d="M205,620.1 L284.5,620.1 L292.2,626.6 L298,634.3 L303.8,644 L300,649.8 L298,655.6 L294,658 L282,657 L270,656 L262,654 L255,643 L249,634 L236,633 L218,633 L208,631.5 L203,630Z" fill="#5e4784" stroke="#5e4784" stroke-width="0.5" stroke-linejoin="round"/>
<path d="M308.4,693.5 L312.2,692.6 L314.2,695.5 L317.1,698.4 L317.1,701.3 L313.2,700.3 L310.3,698.4Z" fill="#5e4784" stroke="#5e4784" stroke-width="0.5" stroke-linejoin="round"/>
<path d="M297.7,702.2 L301.6,700.3 L305.5,702.2 L302.6,705.1 L298.7,707.1 L295.8,706.1Z" fill="#5e4784" stroke="#5e4784" stroke-width="0.5" stroke-linejoin="round"/>
<path d="M444.8,631.9 L449.7,633.1 L455.7,635.6 L461.8,640.4 L460.6,644 L455.7,645.2 L453.3,647.6 L456.9,653.7 L461.8,648.9 L466.6,645.2 L470.2,639.2 L476.3,636.8 L483.5,636.8 L490.8,633.1 L496.8,631.9 L502.9,636.8 L507.7,640.4 L510.1,644 L512.6,642.8 L513.8,638 L515,630.7 L512.6,624.7 L510,620.5 L612,620.5 L612,706 L605.4,706.8 L603.7,717 L470,717 L462,716 L446,706 L440,690 L436,680 L441,669 L446,662 L447.7,657.7 L446.7,650.9 L445.3,644.2 L444.8,637.4Z" fill="#90bd73" stroke="#90bd73" stroke-width="0.5" stroke-linejoin="round"/>
<path d="M479.9,621 L484.7,620.4 L488.4,625.9 L493.2,629.5 L501,634.5 L503.3,637.4 L498.5,635.6 L491.2,632 L485,628.3 L482.3,625.9Z" fill="#90bd73" stroke="#90bd73" stroke-width="0.5" stroke-linejoin="round"/>
<path d="M580,620.7 L600.3,620.7 L601.8,625.8 L606.1,622.9 L616.3,620.7 L632.2,620.7 L635.1,625.8 L643.8,626.5 L648.2,630.9 L652.5,632.3 L661.3,632.3 L664.2,635.2 L667.1,630.9 L674.3,633.8 L681.6,638.1 L687.4,642.5 L688.8,652.6 L684.5,649.7 L680.1,648.3 L677.2,655.5 L677.2,659.9 L667.1,664.2 L661.3,667.1 L655.4,665.7 L651.1,662.8 L645.3,662.8 L640.9,665.7 L638,670 L630.8,670 L623.5,672.9 L617.7,675.8 L611.9,680.2 L610.5,683.1 L614.8,684.5 L619.2,686 L617.7,693.3 L616.3,702 L580,702Z" fill="#90bd73" stroke="#90bd73" stroke-width="0.5" stroke-linejoin="round"/>
<path d="M651.1,661.3 L655.7,664.5 L654.3,670 L649.9,678.7 L644.7,690.4 L641.7,688.9 L642.1,675.8 L646.5,668.6Z" fill="#90bd73" stroke="#90bd73" stroke-width="0.5" stroke-linejoin="round"/>
<path d="M619.9,684.5 L621.4,683.1 L622.8,693.3 L622.1,699.1 L620.6,697.6Z" fill="#90bd73" stroke="#90bd73" stroke-width="0.5" stroke-linejoin="round"/>
<path d="M677.2,624.3 L682.3,624.3 L682.3,626.5 L677.2,626.5Z" fill="#90bd73" stroke="#90bd73" stroke-width="0.5" stroke-linejoin="round"/>
<path d="M440,722 L452,713 L462,712 L470,716 L480,700 L500,700 L520,705 L560,710 L590,717 L601.9,710.3 L608.7,703.5 L620,700 L620,690 L480,690 L470,700 L470,716Z" fill="#90bd73" stroke="#90bd73" stroke-width="0.5" stroke-linejoin="round"/>
<path d="M452.2,733.3 L450,726 L455,722 L468,718 L480,716 L500,712 L520,712 L515.6,717.1 L513.9,725.5 L511.3,734 L507.9,740.8 L506.2,745.7 L500.7,744.6 L495.3,745.7 L493.1,746.8 L490.9,749 L486.6,754.4 L481.1,757.7 L475.7,760.9 L469,763.5 L466,762 L462.6,756.6 L459.4,749 L455,740.3Z" fill="#90bd73" stroke="#90bd73" stroke-width="0.5" stroke-linejoin="round"/>
<path d="M512.2,723.9 L547.7,710.3 L585,715.4 L586.7,732.3 L581.6,745.9 L568,754.3 L551.1,761.1 L537.6,747.6 L522.3,735.7 L510.5,740.8 L500.3,744.2 L493.5,747.6 L486.8,745.9 L480,750.9 L480,723.9Z" fill="#90bd73" stroke="#90bd73" stroke-width="0.5" stroke-linejoin="round"/>
<path d="M385.7,730.9 L391.8,724.8 L400.2,723 L409.9,722.4 L416,722.4 L418.4,727.3 L424.4,729.7 L428,733.3 L432.9,731.5 L440.1,730.9 L447.4,732.1 L452.2,733.3 L454.6,738.1 L457.1,749 L459.5,756.3 L464.3,761.1 L470,766 L477.6,768.8 L478.4,765.4 L473.3,777.2 L468.3,784 L463.2,790.8 L462.3,797.6 L463.2,804.3 L459.8,811.1 L454.7,819.6 L451.3,828 L446.3,834.8 L439.5,839.9 L431,839 L427.6,831.4 L424.3,821.3 L420.9,811.1 L419.2,800.9 L419.6,799.8 L418.4,791.3 L414.7,785.3 L413.5,779.3 L408.7,775.6 L401.4,775 L394.2,775.6 L388.1,774.4 L382.1,770.8 L376,764.7 L373.6,758.7 L376,749 L379.7,741.8 L382.1,739.3Z" fill="#90bd73" stroke="#90bd73" stroke-width="0.5" stroke-linejoin="round"/>
<path d="M473.3,804.3 L476.7,802.6 L477.6,809.4 L473.3,821.3 L469.1,823 L467.4,816.2 L470,809.4Z" fill="#90bd73" stroke="#90bd73" stroke-width="0.5" stroke-linejoin="round"/>
<path d="M419.7,683.9 L423.5,683.6 L423.5,702.1 L420.3,702.1Z" fill="#5483b1" stroke="#5483b1" stroke-width="0.5" stroke-linejoin="round"/>
<path d="M515.5,621 L518,621 L518.6,632 L517.6,645 L515.6,645.5 L516.2,632Z" fill="#ffffff" stroke="#ffffff" stroke-width="0.5" stroke-linejoin="round"/>
<path d="M523.5,621 L526,621 L527.5,628 L526.5,636 L524.5,632Z" fill="#ffffff" stroke="#ffffff" stroke-width="0.5" stroke-linejoin="round"/>
<path d="M443.1,705.4 L451.8,703.3 L458.3,704.4 L462.6,707.6 L463.7,712 L458.3,713.6 L451.8,713.1 L444.1,713.6 L442,709.8Z" fill="#ffffff" stroke="#ffffff" stroke-width="0.5" stroke-linejoin="round"/>
<path d="M474.6,705.4 L479,702.2 L481.1,704.4 L479,709.8 L482.2,719.6 L479,722.9 L475.7,719.6 L476.8,713.1Z" fill="#ffffff" stroke="#ffffff" stroke-width="0.5" stroke-linejoin="round"/>
<path d="M452.9,738.1 L455,740.3 L459.4,749 L462.6,756.6 L467,763.1 L469.2,765.3 L465.9,765.3 L461.6,760.9 L457.2,756.6 L456.1,749 L453.4,741.4Z" fill="#ffffff" stroke="#ffffff" stroke-width="0.5" stroke-linejoin="round"/>
<path d="M467,764.2 L473.5,763.1 L479,764.2 L481.1,766.4 L475.7,768.6 L470.3,767.5Z" fill="#ffffff" stroke="#ffffff" stroke-width="0.5" stroke-linejoin="round"/>
<path d="M474.6,735.9 L477.9,737 L481.1,741.4 L486.6,741.4 L488.8,743.5 L492,747.9 L487.7,744.6 L483.3,744.6 L479,743.5 L475.7,739.2Z" fill="#ffffff" stroke="#ffffff" stroke-width="0.5" stroke-linejoin="round"/>
<path d="M156.8,624.9 L164,628.8 L172.7,631 L181.9,633.1 L181.9,665.1 L187.2,669.4 L193,674.5 L197.4,678.8 L201.7,686.1 L206.1,694.1 L208.3,699.2 L206.8,699.9 L203.2,694.1 L198.8,686.8 L193.8,680.3 L188.7,674.5 L182.9,670.1 L177.1,667.2 L171.3,665.8 L166.2,665.1 L162.6,668.7 L158.2,673 L153.9,677.4 L148.1,681.7 L140.8,686.1 L138.6,687.1 L143.7,683.2 L149.5,678.8 L153.9,674.5 L151,671.6 L146.6,670.1 L143.7,665.8 L141.5,661.4 L145.2,657.1 L143,652.7 L140.8,649.1 L143.7,646.2 L141.5,642.6 L143,638.2 L141.5,635.3 L146.6,632.4 L151,628.1Z" fill="#b92513" stroke="#b92513" stroke-width="0.5" stroke-linejoin="round"/>
<path d="M208.6,697.3 L258.5,697.3 L261.2,700.6 L265.2,702.6 L269.2,706 L272.5,705.3 L275.8,708.6 L279.8,708 L285.1,706 L291.8,703.3 L295.8,701.3 L296.4,704.6 L291.8,710 L287.8,714 L283.1,717.9 L281.1,723.3 L277.1,728.6 L273.2,732.6 L272.5,736.6 L274.5,740.5 L275.3,743.4 L273.6,743.2 L271.7,739.4 L269.5,737 L267.5,735.2 L262.4,736.4 L259,735.6 L253.1,736 L250.6,738.5 L248,741.9 L244.6,739.4 L240.4,736 L235.3,733.5 L225.2,732.2 L218.4,730.1 L214.6,725.9 L210.6,720.6 L208,712.6 L207.3,704.6Z" fill="#b92513" stroke="#b92513" stroke-width="0.5" stroke-linejoin="round"/>
<path d="M225.2,732.2 L235.3,733.5 L240.4,736 L244.6,739.4 L248,741.9 L248.9,743.6 L248.9,748.7 L251.4,752.9 L254.8,754.6 L258.2,753.8 L260.7,750.4 L264.1,750.4 L263.3,755.5 L262.4,758.9 L268.3,759.7 L270.9,761.4 L270.9,767.3 L274.3,769.9 L277.7,769 L281,770.7 L281,773.3 L274.3,771.6 L269.2,768.2 L262.4,763.1 L255.6,760.6 L248.9,758 L242.9,754.6 L237,752.1 L236.2,748.7 L231.9,744.5 L228.5,740.2 L226,735.2Z" fill="#90bd73" stroke="#90bd73" stroke-width="0.5" stroke-linejoin="round"/>
<path d="M219.2,731.4 L221.8,731.8 L225.2,736.9 L228.5,741.9 L230.7,746.6 L229,747 L226,743.6 L222.6,737.7 L220.1,734.3Z" fill="#90bd73" stroke="#90bd73" stroke-width="0.5" stroke-linejoin="round"/>
<path d="M271.2,765.3 L276.3,768.2 L280.6,770 L279.2,773.3 L274.8,772.6 L269,770.4 L263.9,766.8 L265.4,759.5 L269.7,760.2Z" fill="#90bd73" stroke="#90bd73" stroke-width="0.5" stroke-linejoin="round"/>
<path d="M269.2,747.9 L274.3,747.2 L279.4,749.6 L284.4,752.1 L281,752.3 L276,750.6 L270,749.1Z" fill="#5483b1" stroke="#5483b1" stroke-width="0.5" stroke-linejoin="round"/>
<path d="M285.5,752.5 L292,753 L291,755.5 L286,755Z" fill="#90bd73" stroke="#90bd73" stroke-width="0.5" stroke-linejoin="round"/>
<path d="M154.3,749.8 L157.2,750.3 L159.2,753.5 L156.3,753.7Z" fill="#b92513" stroke="#b92513" stroke-width="0.5" stroke-linejoin="round"/>
<path d="M313.8,620.7 L365.3,620.7 L366,626.5 L360.9,633.8 L353.7,639.6 L343.5,643.9 L336.3,652.6 L331.9,661.3 L329.7,666.4 L326.1,661.3 L321.8,652.6 L317.4,641 L316,630.9Z" fill="#f1f1f1" stroke="#f1f1f1" stroke-width="0.5" stroke-linejoin="round"/>
<path d="M362.4,647.5 L368.2,646.1 L376.9,646.1 L379.1,650.5 L374,654.1 L368.2,655.5 L363.8,652.6Z" fill="#90bd73" stroke="#90bd73" stroke-width="0.5" stroke-linejoin="round"/>
<path d="M279.9,771.1 L286.4,766 L292.2,765.3 L300.9,768.2 L309.6,772.6 L316.9,776.2 L319.8,778.4 L322.7,782.7 L332.9,787.1 L341.6,790 L345.9,794.3 L343,798.7 L340.1,805.9 L338.7,813.2 L334.3,819 L325.6,823.4 L323.4,827.7 L321.3,832.1 L315.4,839.3 L311.8,840.8 L311.8,845.1 L306.7,848 L302.4,852.4 L299.5,856.7 L298,864 L295.1,871.2 L293.7,877 L297.3,884.3 L292.2,885.7 L286.4,879.9 L283.5,869.8 L285,858.2 L286.4,846.6 L289.3,832.1 L291.5,817.5 L290.8,811.7 L285,805.9 L280.6,800.1 L274.8,792.9 L274.1,788.5 L275.5,783.5 L279.2,778.4 L280.6,774Z" fill="#5483b1" stroke="#5483b1" stroke-width="0.5" stroke-linejoin="round"/>
<path d="M286.4,766.8 L292.2,765.3 L300.9,768.2 L309.6,772.6 L316.9,776.2 L315.4,779.8 L311.1,780.5 L306.7,778.4 L303.8,776.2 L299.5,781.3 L295.9,779.8 L294.4,774 L289.3,772.6 L287.9,769.7Z" fill="#90bd73" stroke="#90bd73" stroke-width="0.5" stroke-linejoin="round"/>
<path d="M274.8,784.2 L279.2,782 L282.8,783.5 L280.6,787.1 L277,790 L274.5,788.5Z" fill="#90bd73" stroke="#90bd73" stroke-width="0.5" stroke-linejoin="round"/>
<path d="M294.4,800.1 L299.5,800.9 L303.8,805.9 L308.2,811.7 L312.5,817.5 L316.2,824.1 L311.1,832.1 L310.4,839.3 L311.8,845.1 L306.7,848 L302.4,852.4 L299.5,856.7 L298,864 L295.1,871.2 L293,877 L289.3,876.3 L287.9,871.2 L289.3,861.1 L290.1,849.5 L290.8,837.9 L292.2,826.3 L293,814.6 L292.2,805.9Z" fill="#90bd73" stroke="#90bd73" stroke-width="0.5" stroke-linejoin="round"/>
<path d="M408,661.6 L411.9,658.7 L416.8,651.9 L418.7,646.1 L421.6,639.3 L425.5,634.5 L430.3,630.6 L436.1,627.7 L441.9,626.3 L446.7,628.7 L445.8,632.6 L444.8,637.4 L445.3,644.2 L446.7,650.9 L447.7,657.7 L445.8,662.6 L443.8,666.4 L440,667.4 L434.2,668.4 L432.7,663.5 L434.2,656.8 L436.1,650.9 L438,649 L437.1,648 L434.2,649 L432.2,653.8 L429.3,658.7 L427.4,663.5 L428.4,668.4 L426.4,674.2 L423.5,678 L420.6,680 L416.8,679 L415.8,675.1 L412.9,674.2 L409,672.2 L408,667.4Z" fill="#5483b1" stroke="#5483b1" stroke-width="0.5" stroke-linejoin="round"/>
<path d="M412.9,676.1 L415.8,675.1 L416.8,680 L414.8,681.9 L412.9,680.9Z" fill="#5483b1" stroke="#5483b1" stroke-width="0.5" stroke-linejoin="round"/>
<path d="M434.2,670.3 L440,669.3 L442.9,672.2 L441.9,678 L438,680 L434.2,678Z" fill="#5483b1" stroke="#5483b1" stroke-width="0.5" stroke-linejoin="round"/>
<path d="M421.9,686.3 L425.7,684.1 L432.2,684.1 L435.5,685.2 L436.6,687.4 L440.9,689.6 L447.5,689.6 L451.8,690.7 L456.2,692.9 L460.5,695 L462.7,697.2 L461.6,701.6 L458.4,704.8 L455.1,705.9 L450.7,704.8 L447.5,705.9 L444.2,707 L440.9,705.9 L436.6,705.9 L434.4,700.5 L431.1,698.3 L426.8,697.2 L423.5,697.2 L422.4,693.9 L421.9,689.6Z" fill="#5483b1" stroke="#5483b1" stroke-width="0.5" stroke-linejoin="round"/>
<path d="M432.2,670 L440.9,670 L443.1,674.4 L440.9,679.8 L434.4,680.9 L431.1,676.5Z" fill="#5483b1" stroke="#5483b1" stroke-width="0.5" stroke-linejoin="round"/>
<path d="M445.3,695 L448.6,694.5 L449.6,699.4 L446.4,699.9Z" fill="#90bd73" stroke="#90bd73" stroke-width="0.5" stroke-linejoin="round"/>
<path d="M406.1,690.1 L408.3,687.4 L410.5,686.3 L410.7,689.8 L407.8,690.9Z" fill="#5483b1" stroke="#5483b1" stroke-width="0.5" stroke-linejoin="round"/>
<path d="M411.6,698.8 L415.9,701.6 L421.4,701 L426.8,699.4 L429,701.6 L427.9,704.8 L424.6,705.9 L420.3,705.9 L415.9,707 L412.1,705.9Z" fill="#5483b1" stroke="#5483b1" stroke-width="0.5" stroke-linejoin="round"/>
<path d="M393.1,697.8 L398.5,696.1 L402.9,692.9 L406.1,690.1 L407.8,690.9 L410.7,689.8 L411.6,695 L412.6,699.4 L412.1,704.8 L411.6,707 L408.5,710.3 L403.9,711.4 L399.6,711.1 L396.3,710 L397.4,704.8 L396.3,701.6 L393.6,700.5Z" fill="#5e4784" stroke="#5e4784" stroke-width="0.5" stroke-linejoin="round"/>
<path d="M410.5,686.3 L414.8,684.1 L420.3,684.1 L421.9,689.6 L422.4,693.9 L420.3,698.3 L421.4,701.6 L417,702.6 L412.6,701.6 L411.6,695 L410.7,689.8Z" fill="#5e4784" stroke="#5e4784" stroke-width="0.5" stroke-linejoin="round"/>
<path d="M390.3,671.6 L394.7,671.6 L396.3,676.5 L398,680.9 L400.7,685.2 L402.3,689 L401.8,692.3 L397.4,693.1 L393.1,694.5 L390.3,693.4 L393.1,690.7 L392,687.4 L390.3,682 L389.8,676.5Z" fill="#5e4784" stroke="#5e4784" stroke-width="0.5" stroke-linejoin="round"/>
<path d="M384.1,683.9 L388.7,681.4 L391.1,683.6 L390.7,688.5 L386.7,690.9 L384.1,689.4Z" fill="#90bd73" stroke="#90bd73" stroke-width="0.5" stroke-linejoin="round"/>
<path d="M386,710.8 L390.9,709.4 L396.3,709.4 L401.8,709.8 L406.7,710.5 L405.6,712.4 L403.4,714.6 L401.2,717.9 L399.6,721.1 L395.2,723.3 L390.3,722.8 L386.5,721.1 L386,716.8Z" fill="#5483b1" stroke="#5483b1" stroke-width="0.5" stroke-linejoin="round"/>
<path d="M411.6,707 L415.9,705.9 L420.3,704.8 L421.4,708.1 L423.5,711.4 L426.8,714.6 L427.9,716.8 L425.7,717.9 L423.5,721.1 L421.4,721.1 L422.4,717.9 L420.3,714.6 L417,711.4 L413.7,709.2Z" fill="#5483b1" stroke="#5483b1" stroke-width="0.5" stroke-linejoin="round"/>
<path d="M420.3,720.1 L423.5,720.1 L423,722.2 L420.8,722Z" fill="#5483b1" stroke="#5483b1" stroke-width="0.5" stroke-linejoin="round"/>
<path d="M413.2,711.4 L414.8,711.4 L414.8,716.8 L413.2,716.8Z" fill="#5483b1" stroke="#5483b1" stroke-width="0.5" stroke-linejoin="round"/>
<path d="M423,696.1 L426.8,696.1 L431.1,697.2 L434.4,699.6 L436.6,705.4 L440.9,705.4 L442,710.3 L439.9,713.5 L438.8,717.9 L436.6,721.1 L433.3,721.1 L431.1,716.8 L429,713.5 L426.8,710.3 L424.6,706.5 L427.9,703.7 L428.4,701.6Z" fill="#90bd73" stroke="#90bd73" stroke-width="0.5" stroke-linejoin="round"/>
<path d="M440.9,714.1 L451.8,713.1 L462.6,713.6 L468.1,717.4 L467,721.2 L457.2,721.8 L446.3,722.9 L442,720.7Z" fill="#5483b1" stroke="#5483b1" stroke-width="0.5" stroke-linejoin="round"/>
<path d="M376,739.3 L385.7,739.3 L383.3,743 L378.5,749 L374.8,747.8Z" fill="#f1f1f1" stroke="#f1f1f1" stroke-width="0.5" stroke-linejoin="round"/>
<path d="M423.2,772 L430.5,768.4 L437.7,768.4 L445,765.9 L451,764.7 L453.4,768.4 L452.2,775.6 L442.6,776.8 L432.9,776.8 L426.8,780.5 L424.4,787.7 L420.8,790.1 L419.6,785.3 L422,778Z" fill="#f1f1f1" stroke="#f1f1f1" stroke-width="0.5" stroke-linejoin="round"/>
<path d="M447.4,787.7 L452.2,785.3 L457.1,787.7 L459.5,792.6 L460.7,798.6 L454.6,798.6 L448.6,795 L446.2,791.3Z" fill="#5483b1" stroke="#5483b1" stroke-width="0.5" stroke-linejoin="round"/>
<path d="M513.9,725.5 L515.7,717 L520.6,713.7 L525.9,706.8 L530.8,701.9 L534.3,698.3 L539.4,701.7 L544.5,708.5 L554.6,711.9 L564.8,711.9 L573.3,706.8 L580,701.7 L581.7,696.6 L586.8,691.6 L590.2,686.5 L595.3,688.2 L598.7,694.9 L603.7,698.3 L607.2,700.6 L606,705.4 L599.9,710.2 L595.1,715.1 L589,716.3 L584.2,719.9 L587.8,722.3 L589,730.8 L586.6,738 L584.2,745.3 L581.6,746 L574.8,747.6 L568,749.3 L563,747.6 L557.9,742.5 L552.8,739.1 L547.7,739.1 L542.6,739.1 L539.3,735.7 L530.8,734 L525.7,734.9 L520.6,730.6 L517.2,727.2Z" fill="#5483b1" stroke="#5483b1" stroke-width="0.5" stroke-linejoin="round"/>
<path d="M593.9,716.3 L598.7,715.1 L601.1,719.9 L599.9,725.9 L596.3,727.2 L594.5,721.1Z" fill="#90bd73" stroke="#90bd73" stroke-width="0.5" stroke-linejoin="round"/>
<path d="M616.5,705.5 L621,704.3 L625.5,706.8 L624.8,711 L621.8,713 L621.5,719 L619.5,724.5 L615,728 L609,730 L604.5,733.8 L600.8,733 L600.8,729.5 L604.5,726 L609.5,723.5 L614.5,720.5 L616.5,716.5 L617.5,712.5 L616.5,709Z" fill="#5e4784" stroke="#5e4784" stroke-width="0.5" stroke-linejoin="round"/>
<path d="M513,724.4 L518.9,729.3 L525.7,733.7 L530.8,738.2 L537.6,740.8 L540.9,739.1 L544.3,740.8 L542.6,745.9 L538.4,747.6 L534.2,749.3 L530.8,754.3 L527.4,759.4 L524,766.2 L521.5,770.4 L519.8,769.6 L517.2,761.1 L514.7,752.6 L512.2,745.9 L507.9,742.5 L509.6,739.1 L511.3,734 L513,728.9Z" fill="#5483b1" stroke="#5483b1" stroke-width="0.5" stroke-linejoin="round"/>
<path d="M525.4,734.4 L530.8,735.4 L537.6,737.9 L539.6,740.8 L535.9,741.1 L530.8,739.4 L525.4,737.1Z" fill="#90bd73" stroke="#90bd73" stroke-width="0.5" stroke-linejoin="round"/>
<path d="M537.6,740.8 L544.3,740.8 L551.1,739.1 L556.2,745.9 L563,747.6 L568,750.9 L566.3,756 L569.7,761.1 L568,766.2 L563,767.9 L559.6,766.2 L557.9,771.3 L559.6,778 L557.9,779.7 L554.5,776.3 L552.8,771.3 L551.1,764.5 L547.7,757.7 L544.3,752.6 L542.6,745.9Z" fill="#90bd73" stroke="#90bd73" stroke-width="0.5" stroke-linejoin="round"/>
<path d="M551.1,752.6 L556.2,750.9 L561.3,754.3 L563,761.1 L558.7,762.8 L556.2,766.2 L554.5,771.3 L552.8,767.9 L551.9,761.1Z" fill="#5483b1" stroke="#5483b1" stroke-width="0.5" stroke-linejoin="round"/>
<path d="M523.7,768.7 L525.7,771.3 L524.9,773.8 L523.2,772.1Z" fill="#90bd73" stroke="#90bd73" stroke-width="0.5" stroke-linejoin="round"/>
<path d="M586.7,744.2 L588.3,745.9 L587.5,749.3 L585.8,747.6Z" fill="#5483b1" stroke="#5483b1" stroke-width="0.5" stroke-linejoin="round"/>
<path d="M568,752.6 L570.6,752.6 L569.7,755.2 L568,754.7Z" fill="#5483b1" stroke="#5483b1" stroke-width="0.5" stroke-linejoin="round"/>
<path d="M585,754.3 L588.3,752.6 L591.7,761.1 L595.1,769.6 L593.4,774.6 L590,771.3 L588.3,764.5 L585.8,759.4Z" fill="#5483b1" stroke="#5483b1" stroke-width="0.5" stroke-linejoin="round"/>
<path d="M547.7,774.6 L552.8,776.3 L559.6,784.8 L564.6,791.6 L568,798.3 L563,798.3 L556.2,789.9 L551.1,783.1Z" fill="#5483b1" stroke="#5483b1" stroke-width="0.5" stroke-linejoin="round"/>
<path d="M560.9,791.8 L571.8,793.9 L582.7,796.5 L593.5,797.8 L593.5,799.4 L582.7,798.7 L571.8,796.5 L560.9,793.6Z" fill="#5483b1" stroke="#5483b1" stroke-width="0.5" stroke-linejoin="round"/>
<path d="M570,780.9 L573.6,778.2 L579,777.3 L583.6,775.4 L583.6,779.1 L582.7,784.5 L577.2,788.1 L571.8,787.2 L569.6,784.5Z" fill="#5483b1" stroke="#5483b1" stroke-width="0.5" stroke-linejoin="round"/>
<path d="M573.6,778.2 L579,775.4 L583.6,773.3 L584.8,776.3 L579.9,779.1 L575.4,780.9Z" fill="#90bd73" stroke="#90bd73" stroke-width="0.5" stroke-linejoin="round"/>
<path d="M585.4,782.7 L592.6,781.8 L589,786.3 L591.7,790.9 L587.2,791.8 L585.4,787.2Z" fill="#5483b1" stroke="#5483b1" stroke-width="0.5" stroke-linejoin="round"/>
<path d="M604.4,784.5 L611.7,785.4 L618.9,787.2 L618.9,796.3 L613.5,793.6 L608,790Z" fill="#5483b1" stroke="#5483b1" stroke-width="0.5" stroke-linejoin="round"/>
<path d="M618.6,787.2 L624.4,790 L629.8,793.6 L633.4,798.1 L628,798.1 L622.6,796.3 L618.6,795.8Z" fill="#90bd73" stroke="#90bd73" stroke-width="0.5" stroke-linejoin="round"/>
<path d="M577.2,819 L586.3,813.5 L593.5,806.3 L602.6,802.7 L609.9,804.5 L613.5,808.1 L617.1,808.1 L619.8,801.7 L622.6,804.5 L626.2,813.5 L631.6,817.2 L637.1,824.4 L638,831.7 L635.3,838.9 L631.6,844.4 L626.2,848 L620.7,846.2 L615.3,841.6 L611.7,837.1 L606.2,833.5 L599,835.3 L591.7,837.1 L584.5,838.9 L579,839.8 L578.1,833.5 L576.3,826.2Z" fill="#5483b1" stroke="#5483b1" stroke-width="0.5" stroke-linejoin="round"/>
<path d="M624.4,852.5 L629.8,852.5 L628.9,857.1 L626.2,858Z" fill="#5483b1" stroke="#5483b1" stroke-width="0.5" stroke-linejoin="round"/>
<path d="M667.9,840.7 L670.6,842.6 L676.1,846.2 L673.3,850.7 L670.6,853.4 L668.8,849.8 L670.6,846.2Z" fill="#5483b1" stroke="#5483b1" stroke-width="0.5" stroke-linejoin="round"/>
<path d="M668.8,852.5 L669.7,855.3 L666.1,860.7 L660.6,865.2 L658.8,862.5 L663.4,857.1Z" fill="#5483b1" stroke="#5483b1" stroke-width="0.5" stroke-linejoin="round"/>
<path d="M203,631.2 L212,629.3 L219,631.3 L222.5,635 L227,637.6 L233,637.6 L237,635.5 L241,633.5 L246,632.3 L250,632.5 L253,634" fill="none" stroke="#fff" stroke-width="1.8" stroke-linejoin="round"/>
<path d="M240,620.1 L243.5,624.7 L246,630.7 L250.8,639.2 L253.2,642.8" fill="none" stroke="#fff" stroke-width="1.8" stroke-linejoin="round"/>
<path d="M256.8,620.1 L260.5,627.1 L262.9,633.1 L267.7,642.8 L265.3,646.4" fill="none" stroke="#fff" stroke-width="1.8" stroke-linejoin="round"/>
<path d="M221,620.1 L224,623 L229,624.5 L235,626" fill="none" stroke="#fff" stroke-width="1.8" stroke-linejoin="round"/>
<path d="M267.7,641.5 L271.5,639.5 L275,639 L278.5,642 L281,646.5 L286,650.5 L293,655 L300,657.5 L302,660.5 L296,661 L288,660 L281,658.5 L279,656 L275,653.5 L270,651 L266.5,647.5Z" fill="#ffffff" stroke="#ffffff" stroke-width="0.5" stroke-linejoin="round"/>
<path d="M260.5,700.2 L267.8,698.6 L269.4,700.4 L263.8,702.2Z" fill="#ffffff" stroke="#ffffff" stroke-width="0.5" stroke-linejoin="round"/>
<path d="M265.5,702.6 L267.2,702 L268.2,709.5 L266,710.5Z" fill="#ffffff" stroke="#ffffff" stroke-width="0.5" stroke-linejoin="round"/>
<path d="M269.2,703.3 L274.3,705.3 L273,708.8 L270,707.6Z" fill="#ffffff" stroke="#ffffff" stroke-width="0.5" stroke-linejoin="round"/>
<path d="M271.8,710.2 L279.8,707 L281.4,708.6 L274.8,711.6Z" fill="#ffffff" stroke="#ffffff" stroke-width="0.5" stroke-linejoin="round"/>
<path d="M269,652.5 L274.5,652.8 L275.5,656 L270.5,656.3Z" fill="#5e4784" stroke="#5e4784" stroke-width="0.5" stroke-linejoin="round"/>
<rect x="130" y="600" width="580" height="20.3" fill="#fff"/>
<rect x="145.9" y="800.6" width="10.9" height="11" fill="#b92513"/>
<text x="161.1" y="809" class="ml" textLength="42.1" lengthAdjust="spacingAndGlyphs">count &gt; 1M</text>
<rect x="145.9" y="817.6" width="10.9" height="11" fill="#5e4784"/>
<text x="161.1" y="826" class="ml" textLength="72.6" lengthAdjust="spacingAndGlyphs">100K &lt; count &lt; 1M</text>
<rect x="145.9" y="834.5" width="10.9" height="11" fill="#5483b1"/>
<text x="161.1" y="842.9" class="ml" textLength="76.9" lengthAdjust="spacingAndGlyphs">10K &lt; count &lt; 100K</text>
<rect x="145.9" y="851.5" width="10.9" height="11" fill="#90bd73"/>
<text x="161.1" y="859.9" class="ml" textLength="46.4" lengthAdjust="spacingAndGlyphs">count &lt; 10K</text>
<rect x="478.2" y="790.1" width="73.1" height="92.5" fill="#bdbdbd"/>
<rect x="477.4" y="789.3" width="73.1" height="92.5" fill="#f8f8f8" stroke="#9a9a9a" stroke-width="0.7"/>
<text x="482.5" y="800.1" class="tb" textLength="13.8" lengthAdjust="spacingAndGlyphs">USA</text>
<text x="546" y="800.1" class="tb" text-anchor="end" textLength="30.5" lengthAdjust="spacingAndGlyphs">1,853,800</text>
<text x="482.5" y="810.9" class="tb" textLength="10.8" lengthAdjust="spacingAndGlyphs">IGO</text>
<text x="546" y="810.9" class="tb" text-anchor="end" textLength="25.4" lengthAdjust="spacingAndGlyphs">420,679</text>
<text x="482.5" y="821.7" class="tb" textLength="24" lengthAdjust="spacingAndGlyphs">Canada</text>
<text x="546" y="821.7" class="tb" text-anchor="end" textLength="21.7" lengthAdjust="spacingAndGlyphs">241,355</text>
<text x="482.5" y="832.6" class="tb" textLength="9.4" lengthAdjust="spacingAndGlyphs">UK</text>
<text x="546" y="832.6" class="tb" text-anchor="end" textLength="23" lengthAdjust="spacingAndGlyphs">233,166</text>
<text x="482.5" y="843.4" class="tb" textLength="19.5" lengthAdjust="spacingAndGlyphs">Japan</text>
<text x="546" y="843.4" class="tb" text-anchor="end" textLength="21.3" lengthAdjust="spacingAndGlyphs">164,551</text>
<text x="482.5" y="854.2" class="tb" textLength="29.3" lengthAdjust="spacingAndGlyphs">Germany</text>
<text x="546" y="854.2" class="tb" text-anchor="end" textLength="22.2" lengthAdjust="spacingAndGlyphs">151,988</text>
<text x="482.5" y="865" class="tb" textLength="8.8" lengthAdjust="spacingAndGlyphs">EU</text>
<text x="546" y="865" class="tb" text-anchor="end" textLength="24" lengthAdjust="spacingAndGlyphs">150,586</text>
<text x="482.5" y="875.8" class="tb" textLength="21.5" lengthAdjust="spacingAndGlyphs">France</text>
<text x="546" y="875.8" class="tb" text-anchor="end" textLength="23.3" lengthAdjust="spacingAndGlyphs">134,866</text>
</svg>
<div class="t" id="h6" style="left:138px;top:85.5px;font-size:12px;">6</div>
<div class="t" id="hd" style="left:183.7px;top:85.5px;font-size:12px;transform:scaleX(1.1753);">Martin Szomszor and Euan Adie</div>
<div class="t" id="ca" style="left:173.4px;top:330px;font-size:11.4px;transform:scaleX(1.2430);">(a) Document count by source type</div>
<div class="t" id="cb" style="left:448.8px;top:330px;font-size:11.4px;transform:scaleX(1.2319);">(b) Document count by source region</div>
<div class="t" id="cc" style="left:164.4px;top:557.4px;font-size:11.4px;transform:scaleX(1.2351);">(c) Document count by source country</div>
<div class="t" id="cd" style="left:461.6px;top:557.5px;font-size:11.4px;transform:scaleX(1.2349);">(d) Document count by language</div>
<div class="t" id="f1" style="left:252.6px;top:585.5px;font-size:14.2px;transform:scaleX(1.0518);">Fig. 1: Time-series of Overton policy document count</div>
<div class="t" id="f2" style="left:193.4px;top:904px;font-size:14.2px;transform:scaleX(1.0535);">Fig. 2: Map showing the volume of policy documents indexed by country</div>
<div class="t" id="b0" style="left:137.7px;top:955.4px;font-size:14.2px;transform:scaleX(1.0585);">those in other languages. For the regions IGO and EU, no local languages are specified. For</div>
<div class="t" id="b1" style="left:137.7px;top:971.9px;font-size:14.2px;transform:scaleX(1.0537);">reference, the total policy document count for each is shown (middle-right, log-scale), along</div>
<div class="t" id="b2" style="left:137.7px;top:988.4px;font-size:14.2px;transform:scaleX(1.0861);">with the 2018 count of articles attributed to the country in the SCImago journal ranking.</div>
<div class="t" id="b3" style="left:160px;top:1004.8px;font-size:14.2px;transform:scaleX(1.0443);">The balance of source types in each country does vary, with some regions almost entirely</div>
<div class="t" id="b4" style="left:138.2px;top:1021.3px;font-size:14.2px;transform:scaleX(1.1116);">represented by governmental sources, such as Japan, Taiwan, Turkey and Uruguay. The</div>
<div class="t" id="b5" style="left:137.7px;top:1037.7px;font-size:14.2px;transform:scaleX(1.0563);">unusually high percentage of documents from Australian sources categorized as other is due</div>
</body></html>
